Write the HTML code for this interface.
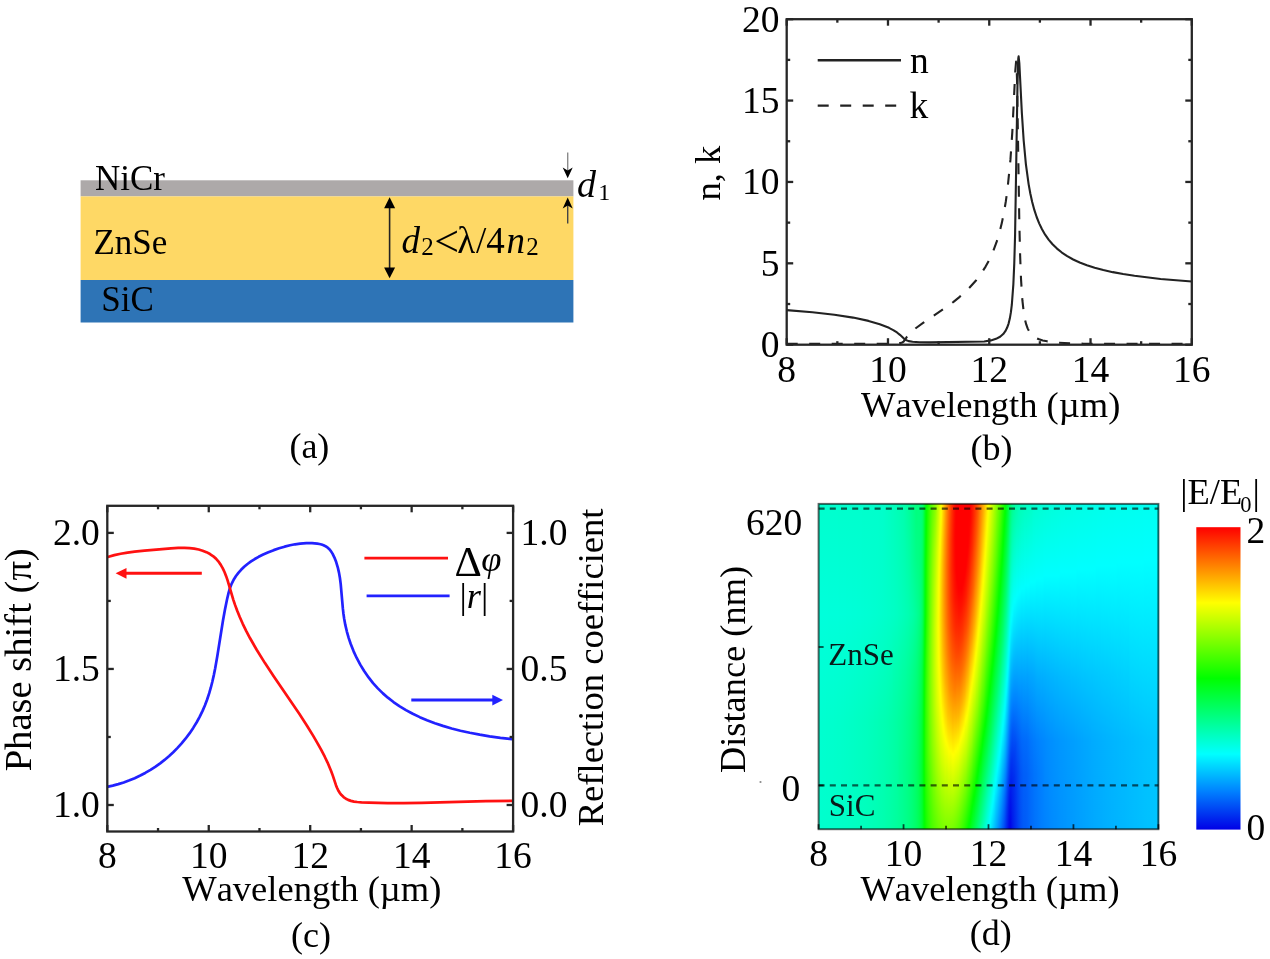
<!DOCTYPE html><html><head><meta charset="utf-8"><style>html,body{margin:0;padding:0;background:#fff;width:1270px;height:959px;overflow:hidden}svg{display:block;filter:blur(0.7px)}text{font-family:"Liberation Serif",serif;font-kerning:none}</style></head><body><svg width="1270" height="959" viewBox="0 0 1270 959"><rect x="80.6" y="180.3" width="492.8" height="16.1" fill="#ADA9A9"/>
<rect x="80.6" y="196.4" width="492.8" height="83.6" fill="#FED865"/>
<rect x="80.6" y="280" width="492.8" height="42.5" fill="#2E74B6"/>
<text x="95" y="189.5" font-size="35" text-anchor="start" fill="#000">NiCr</text>
<text x="93.4" y="253.8" font-size="35" text-anchor="start" fill="#000">ZnSe</text>
<text x="101.2" y="311.2" font-size="35" text-anchor="start" fill="#000">SiC</text>
<line x1="389.6" y1="206" x2="389.6" y2="270" stroke="#222" stroke-width="1.6"/>
<path d="M389.6,197.3 L384.1,208.3 L395.1,208.3 Z" fill="#000"/>
<path d="M389.6,278.2 L384.1,267.4 L395.1,267.4 Z" fill="#000"/>
<line x1="567.7" y1="152.5" x2="567.7" y2="172" stroke="#8a8a8a" stroke-width="1.4"/>
<path d="M567.7,178.3 L562.7,167.5 L567.7,170.5 L572.7,167.5 Z" fill="#000"/>
<line x1="567.7" y1="204" x2="567.7" y2="223.5" stroke="#444" stroke-width="1.4"/>
<path d="M567.7,197.6 L562.7,208.4 L567.7,205.4 L572.7,208.4 Z" fill="#000"/>
<text x="577" y="197" font-size="38" text-anchor="start" font-style="italic" fill="#000">d</text>
<text x="598.2" y="199.8" font-size="24" text-anchor="start" fill="#000">1</text>
<text y="252.8" font-size="37"><tspan x="401.5" font-style="italic">d</tspan><tspan x="421.3" y="254.6" font-size="25">2</tspan><tspan x="434.3" y="255.6" font-size="44">&lt;</tspan><tspan x="457.2" y="252.8">λ</tspan><tspan x="476.0">/</tspan><tspan x="486.3">4</tspan><tspan x="506.5" font-style="italic">n</tspan><tspan x="526.3" y="254.6" font-size="25">2</tspan></text>
<text x="309.4" y="458.4" font-size="36" text-anchor="middle" fill="#000">(a)</text>
<path d="M786.7,310.17 L812.42,312.27 L834.4,314.73 L853.04,317.59 L868.53,320.89 L879.77,324.17 L888.99,327.85 L893.24,330.08 L896.99,332.49 L899.93,334.81 L904.18,338.78 L905.8,339.95 L908.64,341.1 L912.58,341.78 L919.47,342.21 L929.6,342.33 L984.19,341.57 L990.87,340.39 L996.04,338.82 L1000.09,336.73 L1003.23,334.04 L1005.35,331.21 L1007.07,327.85 L1008.59,323.54 L1009.81,318.6 L1010.92,312.16 L1011.83,304.71 L1013.35,284.44 L1014.26,263.58 L1015.08,235.12 L1017.51,83.64 L1018.01,63.76 L1018.32,58.07 L1018.62,56.4 L1019.33,63.02 L1021.86,112.93 L1023.68,140.52 L1025.91,164.28 L1028.65,184.35 L1030.37,193.81 L1032.19,202.03 L1034.32,209.91 L1036.65,217.01 L1039.18,223.37 L1042.01,229.26 L1045.15,234.67 L1048.6,239.59 L1052.55,244.26 L1057,248.62 L1061.86,252.55 L1067.23,256.15 L1073.21,259.47 L1079.69,262.47 L1086.88,265.23 L1094.68,267.73 L1103.29,270.03 L1112.81,272.15 L1123.14,274.07 L1134.48,275.83 L1160.61,278.94 L1191.8,281.52" fill="none" stroke="#222" stroke-width="2.1" stroke-linejoin="round"/>
<path d="M786.7,343.7 L895.77,343.7 L899.12,343.36 L901.44,342.84 L902.66,342.29 L903.57,341.56 L906.71,337.07 L908.84,334.5 L911.88,331.5 L915.72,328.26 L923.42,322.64 L946.61,306.94 L953.2,302.07 L959.07,297.37 L968.29,288.94 L976.19,280.18 L981.15,273.58 L985.6,266.6 L989.66,259.07 L993.2,251.17 L996.44,242.46 L999.28,233.2 L1001.81,223.09 L1004.04,212.15 L1005.86,201.19 L1007.58,188.5 L1010.42,159.89 L1012.34,131.59 L1015.28,71.03 L1016.09,61.64 L1016.39,62.96 L1016.59,66.05 L1017.1,82.82 L1019.33,223.11 L1020.14,255.77 L1021.05,279.64 L1022.37,300.2 L1023.99,314.2 L1025,319.7 L1026.22,324.44 L1027.63,328.36 L1029.35,331.67 L1031.18,334.13 L1033.41,336.23 L1036.04,337.95 L1039.08,339.32 L1042.72,340.44 L1047.08,341.34 L1058.83,342.67 L1069.56,343.27 L1083.64,343.7 L1191.8,343.7" fill="none" stroke="#222" stroke-width="2.1" stroke-dasharray="11,11.5" stroke-linejoin="round"/>
<rect x="786.7" y="19.2" width="405.1" height="325.5" fill="none" stroke="#262626" stroke-width="2.3"/>
<line x1="786.7" y1="344.7" x2="793.2" y2="344.7" stroke="#262626" stroke-width="2.3"/>
<line x1="1191.8" y1="344.7" x2="1185.3" y2="344.7" stroke="#262626" stroke-width="2.3"/>
<line x1="786.7" y1="263.32" x2="793.2" y2="263.32" stroke="#262626" stroke-width="2.3"/>
<line x1="1191.8" y1="263.32" x2="1185.3" y2="263.32" stroke="#262626" stroke-width="2.3"/>
<line x1="786.7" y1="181.95" x2="793.2" y2="181.95" stroke="#262626" stroke-width="2.3"/>
<line x1="1191.8" y1="181.95" x2="1185.3" y2="181.95" stroke="#262626" stroke-width="2.3"/>
<line x1="786.7" y1="100.57" x2="793.2" y2="100.57" stroke="#262626" stroke-width="2.3"/>
<line x1="1191.8" y1="100.57" x2="1185.3" y2="100.57" stroke="#262626" stroke-width="2.3"/>
<line x1="786.7" y1="19.2" x2="793.2" y2="19.2" stroke="#262626" stroke-width="2.3"/>
<line x1="1191.8" y1="19.2" x2="1185.3" y2="19.2" stroke="#262626" stroke-width="2.3"/>
<line x1="786.7" y1="304.01" x2="790.2" y2="304.01" stroke="#262626" stroke-width="2.3"/>
<line x1="1191.8" y1="304.01" x2="1188.3" y2="304.01" stroke="#262626" stroke-width="2.3"/>
<line x1="786.7" y1="222.64" x2="790.2" y2="222.64" stroke="#262626" stroke-width="2.3"/>
<line x1="1191.8" y1="222.64" x2="1188.3" y2="222.64" stroke="#262626" stroke-width="2.3"/>
<line x1="786.7" y1="141.26" x2="790.2" y2="141.26" stroke="#262626" stroke-width="2.3"/>
<line x1="1191.8" y1="141.26" x2="1188.3" y2="141.26" stroke="#262626" stroke-width="2.3"/>
<line x1="786.7" y1="59.89" x2="790.2" y2="59.89" stroke="#262626" stroke-width="2.3"/>
<line x1="1191.8" y1="59.89" x2="1188.3" y2="59.89" stroke="#262626" stroke-width="2.3"/>
<line x1="786.7" y1="344.7" x2="786.7" y2="338.2" stroke="#262626" stroke-width="2.3"/>
<line x1="786.7" y1="19.2" x2="786.7" y2="25.7" stroke="#262626" stroke-width="2.3"/>
<line x1="887.98" y1="344.7" x2="887.98" y2="338.2" stroke="#262626" stroke-width="2.3"/>
<line x1="887.98" y1="19.2" x2="887.98" y2="25.7" stroke="#262626" stroke-width="2.3"/>
<line x1="989.25" y1="344.7" x2="989.25" y2="338.2" stroke="#262626" stroke-width="2.3"/>
<line x1="989.25" y1="19.2" x2="989.25" y2="25.7" stroke="#262626" stroke-width="2.3"/>
<line x1="1090.53" y1="344.7" x2="1090.53" y2="338.2" stroke="#262626" stroke-width="2.3"/>
<line x1="1090.53" y1="19.2" x2="1090.53" y2="25.7" stroke="#262626" stroke-width="2.3"/>
<line x1="1191.8" y1="344.7" x2="1191.8" y2="338.2" stroke="#262626" stroke-width="2.3"/>
<line x1="1191.8" y1="19.2" x2="1191.8" y2="25.7" stroke="#262626" stroke-width="2.3"/>
<line x1="837.34" y1="344.7" x2="837.34" y2="341.2" stroke="#262626" stroke-width="2.3"/>
<line x1="837.34" y1="19.2" x2="837.34" y2="22.7" stroke="#262626" stroke-width="2.3"/>
<line x1="938.61" y1="344.7" x2="938.61" y2="341.2" stroke="#262626" stroke-width="2.3"/>
<line x1="938.61" y1="19.2" x2="938.61" y2="22.7" stroke="#262626" stroke-width="2.3"/>
<line x1="1039.89" y1="344.7" x2="1039.89" y2="341.2" stroke="#262626" stroke-width="2.3"/>
<line x1="1039.89" y1="19.2" x2="1039.89" y2="22.7" stroke="#262626" stroke-width="2.3"/>
<line x1="1141.16" y1="344.7" x2="1141.16" y2="341.2" stroke="#262626" stroke-width="2.3"/>
<line x1="1141.16" y1="19.2" x2="1141.16" y2="22.7" stroke="#262626" stroke-width="2.3"/>
<text x="779.5" y="357.2" font-size="37.5" text-anchor="end" fill="#000">0</text>
<text x="779.5" y="275.82" font-size="37.5" text-anchor="end" fill="#000">5</text>
<text x="779.5" y="194.45" font-size="37.5" text-anchor="end" fill="#000">10</text>
<text x="779.5" y="113.07" font-size="37.5" text-anchor="end" fill="#000">15</text>
<text x="779.5" y="31.7" font-size="37.5" text-anchor="end" fill="#000">20</text>
<text x="786.7" y="381.5" font-size="37.5" text-anchor="middle" fill="#000">8</text>
<text x="887.98" y="381.5" font-size="37.5" text-anchor="middle" fill="#000">10</text>
<text x="989.25" y="381.5" font-size="37.5" text-anchor="middle" fill="#000">12</text>
<text x="1090.53" y="381.5" font-size="37.5" text-anchor="middle" fill="#000">14</text>
<text x="1191.8" y="381.5" font-size="37.5" text-anchor="middle" fill="#000">16</text>
<text x="990.7" y="416.5" font-size="36.5" text-anchor="middle" fill="#000">Wavelength (µm)</text>
<text x="991.5" y="460.4" font-size="36" text-anchor="middle" fill="#000">(b)</text>
<text x="0" y="0" font-size="36.5" text-anchor="middle" transform="translate(720.2,173.2) rotate(-90)">n, k</text>
<line x1="817.7" y1="60.2" x2="901" y2="60.2" stroke="#222" stroke-width="2.4"/>
<text x="910" y="72.5" font-size="37.5" text-anchor="start" fill="#000">n</text>
<line x1="817.7" y1="105.6" x2="900" y2="105.6" stroke="#222" stroke-width="2.4" stroke-dasharray="11,11.5"/>
<text x="909.5" y="118" font-size="37.5" text-anchor="start" fill="#000">k</text>
<path d="M107.15,786.84 L112.76,785.62 L118.27,784.15 L123.68,782.45 L129.51,780.33 L134.7,778.17 L140.27,775.54 L145.21,772.94 L150.5,769.85 L155.18,766.84 L160.16,763.31 L164.53,759.91 L169.18,755.97 L173.24,752.22 L177.53,747.9 L181.62,743.39 L185.5,738.71 L189.5,733.41 L193.23,727.92 L196.7,722.24 L199.63,716.89 L202.56,710.89 L204.98,705.26 L207.14,699.52 L209.24,693.13 L210.8,687.73 L212.33,681.73 L213.82,675.12 L215.15,668.47 L217.29,656.25 L222.95,620.74 L224.93,609.83 L227.07,599.31 L228.63,592.59 L230.08,587.68 L231.71,583.54 L233.96,579.19 L235.98,576.01 L238.58,572.6 L241.08,569.8 L244.17,566.8 L247.5,564.01 L251.04,561.42 L254.76,559.02 L258.64,556.8 L263.17,554.51 L268.38,552.21 L273.71,550.15 L279.13,548.31 L284.59,546.68 L290.1,545.29 L295.1,544.29 L300.14,543.55 L306.38,543.07 L312.12,543.07 L317.25,543.56 L319.44,543.97 L321.56,544.53 L323.57,545.25 L325,545.92 L326.77,546.97 L327.99,547.9 L329.12,548.95 L330.48,550.52 L332.52,553.63 L334.43,557.54 L336.19,562.11 L337.76,567.31 L338.99,572.62 L339.93,578.02 L340.71,584.05 L342.82,608.13 L343.45,613.75 L344.18,618.8 L345.31,624.93 L346.87,631.55 L348.74,638.09 L350.73,643.98 L353.63,651.33 L356.7,657.96 L360.39,664.88 L364.16,671.07 L368.6,677.44 L373.06,683.07 L377.83,688.38 L382.92,693.37 L387.87,697.67 L393.49,702.02 L399.37,706.06 L405.95,710.08 L412.76,713.77 L419.79,717.15 L427,720.23 L434.89,723.22 L442.93,725.9 L451.63,728.45 L460.41,730.7 L469.79,732.79 L479.72,734.69 L489.59,736.3 L500.42,737.81 L512.08,739.15" fill="none" stroke="#2222ff" stroke-width="2.7" stroke-linejoin="round"/>
<path d="M107.75,556.95 L114.29,555.16 L120.71,553.74 L127.48,552.55 L134.65,551.58 L144.51,550.58 L171.01,548.38 L178.21,547.97 L184.42,547.9 L189.59,548.15 L194.21,548.67 L198.71,549.55 L202.64,550.68 L206.42,552.16 L210,554.02 L213.3,556.27 L215.95,558.63 L218.31,561.3 L220.63,564.61 L222.66,568.16 L224.6,572.29 L226.14,576.15 L227.51,580.11 L233.26,599.56 L235.04,604.9 L237.13,610.59 L239.74,617.04 L242.75,623.8 L246.17,630.85 L249.81,637.79 L256.67,649.79 L264.97,663.1 L273.67,676.22 L299.27,713.84 L306.84,725.51 L313.39,736.15 L317.57,743.33 L321.36,750.19 L324.76,756.73 L327.57,762.57 L331.2,771.18 L332.81,775.66 L335.97,785.19 L336.99,787.77 L338.14,790.2 L339.71,792.79 L341.53,795.09 L343.6,797.08 L345.93,798.74 L348.14,799.88 L350.95,800.88 L353.99,801.56 L357.18,802 L361.44,802.33 L369.11,802.65 L387.59,803.09 L403.95,803.14 L421.53,802.94 L485.91,801.22 L513.03,800.81" fill="none" stroke="#ff1111" stroke-width="2.7" stroke-linejoin="round"/>
<rect x="107.3" y="505.8" width="405.8" height="325.7" fill="none" stroke="#262626" stroke-width="2.3"/>
<line x1="107.3" y1="805" x2="113.8" y2="805" stroke="#262626" stroke-width="2.3"/>
<line x1="107.3" y1="668.95" x2="113.8" y2="668.95" stroke="#262626" stroke-width="2.3"/>
<line x1="107.3" y1="532.9" x2="113.8" y2="532.9" stroke="#262626" stroke-width="2.3"/>
<line x1="107.3" y1="736.98" x2="110.8" y2="736.98" stroke="#262626" stroke-width="2.3"/>
<line x1="107.3" y1="600.92" x2="110.8" y2="600.92" stroke="#262626" stroke-width="2.3"/>
<line x1="513.1" y1="805" x2="506.6" y2="805" stroke="#262626" stroke-width="2.3"/>
<line x1="513.1" y1="668.95" x2="506.6" y2="668.95" stroke="#262626" stroke-width="2.3"/>
<line x1="513.1" y1="532.9" x2="506.6" y2="532.9" stroke="#262626" stroke-width="2.3"/>
<line x1="513.1" y1="736.98" x2="509.6" y2="736.98" stroke="#262626" stroke-width="2.3"/>
<line x1="513.1" y1="600.92" x2="509.6" y2="600.92" stroke="#262626" stroke-width="2.3"/>
<line x1="107.3" y1="831.5" x2="107.3" y2="825" stroke="#262626" stroke-width="2.3"/>
<line x1="107.3" y1="505.8" x2="107.3" y2="512.3" stroke="#262626" stroke-width="2.3"/>
<line x1="208.75" y1="831.5" x2="208.75" y2="825" stroke="#262626" stroke-width="2.3"/>
<line x1="208.75" y1="505.8" x2="208.75" y2="512.3" stroke="#262626" stroke-width="2.3"/>
<line x1="310.2" y1="831.5" x2="310.2" y2="825" stroke="#262626" stroke-width="2.3"/>
<line x1="310.2" y1="505.8" x2="310.2" y2="512.3" stroke="#262626" stroke-width="2.3"/>
<line x1="411.65" y1="831.5" x2="411.65" y2="825" stroke="#262626" stroke-width="2.3"/>
<line x1="411.65" y1="505.8" x2="411.65" y2="512.3" stroke="#262626" stroke-width="2.3"/>
<line x1="513.1" y1="831.5" x2="513.1" y2="825" stroke="#262626" stroke-width="2.3"/>
<line x1="513.1" y1="505.8" x2="513.1" y2="512.3" stroke="#262626" stroke-width="2.3"/>
<line x1="158.03" y1="831.5" x2="158.03" y2="828" stroke="#262626" stroke-width="2.3"/>
<line x1="158.03" y1="505.8" x2="158.03" y2="509.3" stroke="#262626" stroke-width="2.3"/>
<line x1="259.48" y1="831.5" x2="259.48" y2="828" stroke="#262626" stroke-width="2.3"/>
<line x1="259.48" y1="505.8" x2="259.48" y2="509.3" stroke="#262626" stroke-width="2.3"/>
<line x1="360.93" y1="831.5" x2="360.93" y2="828" stroke="#262626" stroke-width="2.3"/>
<line x1="360.93" y1="505.8" x2="360.93" y2="509.3" stroke="#262626" stroke-width="2.3"/>
<line x1="462.38" y1="831.5" x2="462.38" y2="828" stroke="#262626" stroke-width="2.3"/>
<line x1="462.38" y1="505.8" x2="462.38" y2="509.3" stroke="#262626" stroke-width="2.3"/>
<text x="99.8" y="817.3" font-size="37.5" text-anchor="end" fill="#000">1.0</text>
<text x="99.8" y="681.25" font-size="37.5" text-anchor="end" fill="#000">1.5</text>
<text x="99.8" y="545.2" font-size="37.5" text-anchor="end" fill="#000">2.0</text>
<text x="520.5" y="817.3" font-size="37.5" text-anchor="start" fill="#000">0.0</text>
<text x="520.5" y="681.25" font-size="37.5" text-anchor="start" fill="#000">0.5</text>
<text x="520.5" y="545.2" font-size="37.5" text-anchor="start" fill="#000">1.0</text>
<text x="107.3" y="867.5" font-size="37.5" text-anchor="middle" fill="#000">8</text>
<text x="208.75" y="867.5" font-size="37.5" text-anchor="middle" fill="#000">10</text>
<text x="310.2" y="867.5" font-size="37.5" text-anchor="middle" fill="#000">12</text>
<text x="411.65" y="867.5" font-size="37.5" text-anchor="middle" fill="#000">14</text>
<text x="513.1" y="867.5" font-size="37.5" text-anchor="middle" fill="#000">16</text>
<text x="311.8" y="901" font-size="36.5" text-anchor="middle" fill="#000">Wavelength (µm)</text>
<text x="311" y="946.5" font-size="36" text-anchor="middle" fill="#000">(c)</text>
<text x="0" y="0" font-size="38.6" text-anchor="middle" transform="translate(30.5,659.8) rotate(-90)">Phase shift (π)</text>
<text x="0" y="0" text-anchor="middle" transform="translate(603.3,667.4) rotate(-90)" font-size="36.6">Reflection coefficient</text>
<line x1="364.4" y1="558.2" x2="448" y2="558.2" stroke="#ff1111" stroke-width="2.7"/>
<line x1="366.6" y1="595.8" x2="449.6" y2="595.8" stroke="#2222ff" stroke-width="2.7"/>
<text y="576.3" font-size="42.5"><tspan x="454.6">Δ</tspan><tspan x="481.3" y="570.6" font-size="36.5" font-style="italic">φ</tspan></text>
<text y="608" font-size="36.5"><tspan x="459.5">|</tspan><tspan font-style="italic">r</tspan><tspan>|</tspan></text>
<line x1="124" y1="573.3" x2="201.8" y2="573.3" stroke="#ff1111" stroke-width="3"/>
<path d="M115.6,573.3 L126.5,567.9 L126.5,578.7 Z" fill="#ff1111"/>
<line x1="411.3" y1="700.1" x2="494" y2="700.1" stroke="#2222ff" stroke-width="3"/>
<path d="M503,700.1 L492.3,694.8 L492.3,705.4 Z" fill="#2222ff"/>
<defs><linearGradient id="g0" x2="0" y2="1"><stop offset="0" stop-color="#00ffce"/><stop offset="0.34" stop-color="#00ffdb"/><stop offset="0.68" stop-color="#00ffd0"/><stop offset="1" stop-color="#00ffce"/></linearGradient><linearGradient id="g1" x2="0" y2="1"><stop offset="0" stop-color="#00ffce"/><stop offset="0.34" stop-color="#00ffdb"/><stop offset="0.68" stop-color="#00ffd0"/><stop offset="1" stop-color="#00ffce"/></linearGradient><linearGradient id="g2" x2="0" y2="1"><stop offset="0" stop-color="#00ffce"/><stop offset="0.34" stop-color="#00ffdb"/><stop offset="0.68" stop-color="#00ffd0"/><stop offset="1" stop-color="#00ffce"/></linearGradient><linearGradient id="g3" x2="0" y2="1"><stop offset="0" stop-color="#00ffce"/><stop offset="0.34" stop-color="#00ffdb"/><stop offset="0.68" stop-color="#00ffcf"/><stop offset="1" stop-color="#00ffcd"/></linearGradient><linearGradient id="g4" x2="0" y2="1"><stop offset="0" stop-color="#00ffce"/><stop offset="0.34" stop-color="#00ffdb"/><stop offset="0.68" stop-color="#00ffcf"/><stop offset="1" stop-color="#00ffcd"/></linearGradient><linearGradient id="g5" x2="0" y2="1"><stop offset="0" stop-color="#00ffce"/><stop offset="0.34" stop-color="#00ffdb"/><stop offset="0.68" stop-color="#00ffcf"/><stop offset="1" stop-color="#00ffcd"/></linearGradient><linearGradient id="g6" x2="0" y2="1"><stop offset="0" stop-color="#00ffce"/><stop offset="0.34" stop-color="#00ffdb"/><stop offset="0.68" stop-color="#00ffcf"/><stop offset="1" stop-color="#00ffcd"/></linearGradient><linearGradient id="g7" x2="0" y2="1"><stop offset="0" stop-color="#00ffce"/><stop offset="0.34" stop-color="#00ffdb"/><stop offset="0.68" stop-color="#00ffce"/><stop offset="1" stop-color="#00ffcc"/></linearGradient><linearGradient id="g8" x2="0" y2="1"><stop offset="0" stop-color="#00ffce"/><stop offset="0.34" stop-color="#00ffdb"/><stop offset="0.68" stop-color="#00ffce"/><stop offset="1" stop-color="#00ffcc"/></linearGradient><linearGradient id="g9" x2="0" y2="1"><stop offset="0" stop-color="#00ffce"/><stop offset="0.34" stop-color="#00ffda"/><stop offset="0.68" stop-color="#00ffce"/><stop offset="1" stop-color="#00ffcc"/></linearGradient><linearGradient id="g10" x2="0" y2="1"><stop offset="0" stop-color="#00ffce"/><stop offset="0.34" stop-color="#00ffda"/><stop offset="0.68" stop-color="#00ffce"/><stop offset="1" stop-color="#00ffcc"/></linearGradient><linearGradient id="g11" x2="0" y2="1"><stop offset="0" stop-color="#00ffce"/><stop offset="0.34" stop-color="#00ffda"/><stop offset="0.68" stop-color="#00ffcd"/><stop offset="1" stop-color="#00ffcb"/></linearGradient><linearGradient id="g12" x2="0" y2="1"><stop offset="0" stop-color="#00ffce"/><stop offset="0.34" stop-color="#00ffda"/><stop offset="0.68" stop-color="#00ffcd"/><stop offset="1" stop-color="#00ffcb"/></linearGradient><linearGradient id="g13" x2="0" y2="1"><stop offset="0" stop-color="#00ffce"/><stop offset="0.34" stop-color="#00ffda"/><stop offset="0.68" stop-color="#00ffcd"/><stop offset="1" stop-color="#00ffcb"/></linearGradient><linearGradient id="g14" x2="0" y2="1"><stop offset="0" stop-color="#00ffce"/><stop offset="0.34" stop-color="#00ffda"/><stop offset="0.68" stop-color="#00ffcd"/><stop offset="1" stop-color="#00ffca"/></linearGradient><linearGradient id="g15" x2="0" y2="1"><stop offset="0" stop-color="#00ffce"/><stop offset="0.34" stop-color="#00ffda"/><stop offset="0.68" stop-color="#00ffcc"/><stop offset="1" stop-color="#00ffca"/></linearGradient><linearGradient id="g16" x2="0" y2="1"><stop offset="0" stop-color="#00ffce"/><stop offset="0.34" stop-color="#00ffda"/><stop offset="0.68" stop-color="#00ffcc"/><stop offset="1" stop-color="#00ffca"/></linearGradient><linearGradient id="g17" x2="0" y2="1"><stop offset="0" stop-color="#00ffce"/><stop offset="0.34" stop-color="#00ffda"/><stop offset="0.68" stop-color="#00ffcc"/><stop offset="1" stop-color="#00ffca"/></linearGradient><linearGradient id="g18" x2="0" y2="1"><stop offset="0" stop-color="#00ffce"/><stop offset="0.34" stop-color="#00ffda"/><stop offset="0.68" stop-color="#00ffcb"/><stop offset="1" stop-color="#00ffc9"/></linearGradient><linearGradient id="g19" x2="0" y2="1"><stop offset="0" stop-color="#00ffcd"/><stop offset="0.34" stop-color="#00ffda"/><stop offset="0.68" stop-color="#00ffcb"/><stop offset="1" stop-color="#00ffc9"/></linearGradient><linearGradient id="g20" x2="0" y2="1"><stop offset="0" stop-color="#00ffcd"/><stop offset="0.34" stop-color="#00ffd9"/><stop offset="0.68" stop-color="#00ffcb"/><stop offset="1" stop-color="#00ffc9"/></linearGradient><linearGradient id="g21" x2="0" y2="1"><stop offset="0" stop-color="#00ffcd"/><stop offset="0.34" stop-color="#00ffd9"/><stop offset="0.68" stop-color="#00ffcb"/><stop offset="1" stop-color="#00ffc8"/></linearGradient><linearGradient id="g22" x2="0" y2="1"><stop offset="0" stop-color="#00ffcd"/><stop offset="0.34" stop-color="#00ffd9"/><stop offset="0.68" stop-color="#00ffca"/><stop offset="1" stop-color="#00ffc8"/></linearGradient><linearGradient id="g23" x2="0" y2="1"><stop offset="0" stop-color="#00ffcd"/><stop offset="0.34" stop-color="#00ffd9"/><stop offset="0.68" stop-color="#00ffca"/><stop offset="1" stop-color="#00ffc7"/></linearGradient><linearGradient id="g24" x2="0" y2="1"><stop offset="0" stop-color="#00ffcd"/><stop offset="0.34" stop-color="#00ffd9"/><stop offset="0.68" stop-color="#00ffca"/><stop offset="1" stop-color="#00ffc7"/></linearGradient><linearGradient id="g25" x2="0" y2="1"><stop offset="0" stop-color="#00ffcd"/><stop offset="0.34" stop-color="#00ffd9"/><stop offset="0.68" stop-color="#00ffc9"/><stop offset="1" stop-color="#00ffc7"/></linearGradient><linearGradient id="g26" x2="0" y2="1"><stop offset="0" stop-color="#00ffcd"/><stop offset="0.34" stop-color="#00ffd9"/><stop offset="0.68" stop-color="#00ffc9"/><stop offset="1" stop-color="#00ffc6"/></linearGradient><linearGradient id="g27" x2="0" y2="1"><stop offset="0" stop-color="#00ffcd"/><stop offset="0.34" stop-color="#00ffd8"/><stop offset="0.68" stop-color="#00ffc8"/><stop offset="1" stop-color="#00ffc6"/></linearGradient><linearGradient id="g28" x2="0" y2="1"><stop offset="0" stop-color="#00ffcd"/><stop offset="0.34" stop-color="#00ffd8"/><stop offset="0.68" stop-color="#00ffc8"/><stop offset="1" stop-color="#00ffc6"/></linearGradient><linearGradient id="g29" x2="0" y2="1"><stop offset="0" stop-color="#00ffcd"/><stop offset="0.34" stop-color="#00ffd8"/><stop offset="0.68" stop-color="#00ffc8"/><stop offset="1" stop-color="#00ffc5"/></linearGradient><linearGradient id="g30" x2="0" y2="1"><stop offset="0" stop-color="#00ffcd"/><stop offset="0.34" stop-color="#00ffd8"/><stop offset="0.68" stop-color="#00ffc7"/><stop offset="1" stop-color="#00ffc5"/></linearGradient><linearGradient id="g31" x2="0" y2="1"><stop offset="0" stop-color="#00ffcd"/><stop offset="0.34" stop-color="#00ffd8"/><stop offset="0.68" stop-color="#00ffc7"/><stop offset="1" stop-color="#00ffc4"/></linearGradient><linearGradient id="g32" x2="0" y2="1"><stop offset="0" stop-color="#00ffcd"/><stop offset="0.34" stop-color="#00ffd8"/><stop offset="0.68" stop-color="#00ffc6"/><stop offset="1" stop-color="#00ffc4"/></linearGradient><linearGradient id="g33" x2="0" y2="1"><stop offset="0" stop-color="#00ffcd"/><stop offset="0.34" stop-color="#00ffd7"/><stop offset="0.68" stop-color="#00ffc6"/><stop offset="1" stop-color="#00ffc3"/></linearGradient><linearGradient id="g34" x2="0" y2="1"><stop offset="0" stop-color="#00ffcd"/><stop offset="0.34" stop-color="#00ffd7"/><stop offset="0.68" stop-color="#00ffc6"/><stop offset="1" stop-color="#00ffc3"/></linearGradient><linearGradient id="g35" x2="0" y2="1"><stop offset="0" stop-color="#00ffcd"/><stop offset="0.34" stop-color="#00ffd7"/><stop offset="0.67" stop-color="#00ffc5"/><stop offset="1" stop-color="#00ffc2"/></linearGradient><linearGradient id="g36" x2="0" y2="1"><stop offset="0" stop-color="#00ffcd"/><stop offset="0.34" stop-color="#00ffd7"/><stop offset="0.67" stop-color="#00ffc5"/><stop offset="1" stop-color="#00ffc2"/></linearGradient><linearGradient id="g37" x2="0" y2="1"><stop offset="0" stop-color="#00ffcd"/><stop offset="0.34" stop-color="#00ffd7"/><stop offset="0.67" stop-color="#00ffc4"/><stop offset="1" stop-color="#00ffc1"/></linearGradient><linearGradient id="g38" x2="0" y2="1"><stop offset="0" stop-color="#00ffcd"/><stop offset="0.34" stop-color="#00ffd6"/><stop offset="0.67" stop-color="#00ffc4"/><stop offset="1" stop-color="#00ffc1"/></linearGradient><linearGradient id="g39" x2="0" y2="1"><stop offset="0" stop-color="#00ffcd"/><stop offset="0.34" stop-color="#00ffd6"/><stop offset="0.67" stop-color="#00ffc3"/><stop offset="1" stop-color="#00ffc0"/></linearGradient><linearGradient id="g40" x2="0" y2="1"><stop offset="0" stop-color="#00ffcd"/><stop offset="0.34" stop-color="#00ffd6"/><stop offset="0.67" stop-color="#00ffc3"/><stop offset="1" stop-color="#00ffc0"/></linearGradient><linearGradient id="g41" x2="0" y2="1"><stop offset="0" stop-color="#00ffcd"/><stop offset="0.34" stop-color="#00ffd6"/><stop offset="0.67" stop-color="#00ffc2"/><stop offset="1" stop-color="#00ffbf"/></linearGradient><linearGradient id="g42" x2="0" y2="1"><stop offset="0" stop-color="#00ffcd"/><stop offset="0.34" stop-color="#00ffd5"/><stop offset="0.67" stop-color="#00ffc2"/><stop offset="1" stop-color="#00ffbf"/></linearGradient><linearGradient id="g43" x2="0" y2="1"><stop offset="0" stop-color="#00ffcc"/><stop offset="0.34" stop-color="#00ffd5"/><stop offset="0.67" stop-color="#00ffc1"/><stop offset="1" stop-color="#00ffbe"/></linearGradient><linearGradient id="g44" x2="0" y2="1"><stop offset="0" stop-color="#00ffcc"/><stop offset="0.34" stop-color="#00ffd5"/><stop offset="0.67" stop-color="#00ffc1"/><stop offset="1" stop-color="#00ffbe"/></linearGradient><linearGradient id="g45" x2="0" y2="1"><stop offset="0" stop-color="#00ffcc"/><stop offset="0.34" stop-color="#00ffd4"/><stop offset="0.67" stop-color="#00ffc0"/><stop offset="1" stop-color="#00ffbd"/></linearGradient><linearGradient id="g46" x2="0" y2="1"><stop offset="0" stop-color="#00ffcc"/><stop offset="0.34" stop-color="#00ffd4"/><stop offset="0.67" stop-color="#00ffc0"/><stop offset="1" stop-color="#00ffbd"/></linearGradient><linearGradient id="g47" x2="0" y2="1"><stop offset="0" stop-color="#00ffcc"/><stop offset="0.34" stop-color="#00ffd4"/><stop offset="0.67" stop-color="#00ffbf"/><stop offset="1" stop-color="#00ffbc"/></linearGradient><linearGradient id="g48" x2="0" y2="1"><stop offset="0" stop-color="#00ffcc"/><stop offset="0.34" stop-color="#00ffd4"/><stop offset="0.67" stop-color="#00ffbf"/><stop offset="1" stop-color="#00ffbb"/></linearGradient><linearGradient id="g49" x2="0" y2="1"><stop offset="0" stop-color="#00ffcc"/><stop offset="0.34" stop-color="#00ffd3"/><stop offset="0.67" stop-color="#00ffbe"/><stop offset="1" stop-color="#00ffbb"/></linearGradient><linearGradient id="g50" x2="0" y2="1"><stop offset="0" stop-color="#00ffcc"/><stop offset="0.34" stop-color="#00ffd3"/><stop offset="0.67" stop-color="#00ffbd"/><stop offset="1" stop-color="#00ffba"/></linearGradient><linearGradient id="g51" x2="0" y2="1"><stop offset="0" stop-color="#00ffcc"/><stop offset="0.34" stop-color="#00ffd3"/><stop offset="0.67" stop-color="#00ffbd"/><stop offset="1" stop-color="#00ffb9"/></linearGradient><linearGradient id="g52" x2="0" y2="1"><stop offset="0" stop-color="#00ffcc"/><stop offset="0.34" stop-color="#00ffd2"/><stop offset="0.67" stop-color="#00ffbc"/><stop offset="1" stop-color="#00ffb9"/></linearGradient><linearGradient id="g53" x2="0" y2="1"><stop offset="0" stop-color="#00ffcc"/><stop offset="0.34" stop-color="#00ffd2"/><stop offset="0.67" stop-color="#00ffbc"/><stop offset="1" stop-color="#00ffb8"/></linearGradient><linearGradient id="g54" x2="0" y2="1"><stop offset="0" stop-color="#00ffcc"/><stop offset="0.34" stop-color="#00ffd1"/><stop offset="0.67" stop-color="#00ffbb"/><stop offset="1" stop-color="#00ffb7"/></linearGradient><linearGradient id="g55" x2="0" y2="1"><stop offset="0" stop-color="#00ffcc"/><stop offset="0.34" stop-color="#00ffd1"/><stop offset="0.67" stop-color="#00ffba"/><stop offset="1" stop-color="#00ffb6"/></linearGradient><linearGradient id="g56" x2="0" y2="1"><stop offset="0" stop-color="#00ffcc"/><stop offset="0.34" stop-color="#00ffd1"/><stop offset="0.67" stop-color="#00ffb9"/><stop offset="1" stop-color="#00ffb6"/></linearGradient><linearGradient id="g57" x2="0" y2="1"><stop offset="0" stop-color="#00ffcc"/><stop offset="0.34" stop-color="#00ffd0"/><stop offset="0.67" stop-color="#00ffb9"/><stop offset="1" stop-color="#00ffb5"/></linearGradient><linearGradient id="g58" x2="0" y2="1"><stop offset="0" stop-color="#00ffcc"/><stop offset="0.34" stop-color="#00ffd0"/><stop offset="0.67" stop-color="#00ffb8"/><stop offset="1" stop-color="#00ffb4"/></linearGradient><linearGradient id="g59" x2="0" y2="1"><stop offset="0" stop-color="#00ffcc"/><stop offset="0.34" stop-color="#00ffcf"/><stop offset="0.67" stop-color="#00ffb7"/><stop offset="1" stop-color="#00ffb3"/></linearGradient><linearGradient id="g60" x2="0" y2="1"><stop offset="0" stop-color="#00ffcb"/><stop offset="0.34" stop-color="#00ffcf"/><stop offset="0.67" stop-color="#00ffb6"/><stop offset="1" stop-color="#00ffb2"/></linearGradient><linearGradient id="g61" x2="0" y2="1"><stop offset="0" stop-color="#00ffcb"/><stop offset="0.34" stop-color="#00ffce"/><stop offset="0.67" stop-color="#00ffb5"/><stop offset="1" stop-color="#00ffb1"/></linearGradient><linearGradient id="g62" x2="0" y2="1"><stop offset="0" stop-color="#00ffcb"/><stop offset="0.34" stop-color="#00ffce"/><stop offset="0.67" stop-color="#00ffb4"/><stop offset="1" stop-color="#00ffb1"/></linearGradient><linearGradient id="g63" x2="0" y2="1"><stop offset="0" stop-color="#00ffcb"/><stop offset="0.34" stop-color="#00ffcd"/><stop offset="0.67" stop-color="#00ffb4"/><stop offset="1" stop-color="#00ffb0"/></linearGradient><linearGradient id="g64" x2="0" y2="1"><stop offset="0" stop-color="#00ffca"/><stop offset="0.34" stop-color="#00ffcd"/><stop offset="0.67" stop-color="#00ffb3"/><stop offset="1" stop-color="#00ffaf"/></linearGradient><linearGradient id="g65" x2="0" y2="1"><stop offset="0" stop-color="#00ffc9"/><stop offset="0.34" stop-color="#00ffcc"/><stop offset="0.67" stop-color="#00ffb2"/><stop offset="1" stop-color="#00ffae"/></linearGradient><linearGradient id="g66" x2="0" y2="1"><stop offset="0" stop-color="#00ffc8"/><stop offset="0.34" stop-color="#00ffcb"/><stop offset="0.67" stop-color="#00ffb1"/><stop offset="1" stop-color="#00ffad"/></linearGradient><linearGradient id="g67" x2="0" y2="1"><stop offset="0" stop-color="#00ffc6"/><stop offset="0.34" stop-color="#00ffcb"/><stop offset="0.67" stop-color="#00ffb0"/><stop offset="1" stop-color="#00ffab"/></linearGradient><linearGradient id="g68" x2="0" y2="1"><stop offset="0" stop-color="#00ffc5"/><stop offset="0.34" stop-color="#00ffca"/><stop offset="0.67" stop-color="#00ffaf"/><stop offset="1" stop-color="#00ffaa"/></linearGradient><linearGradient id="g69" x2="0" y2="1"><stop offset="0" stop-color="#00ffc4"/><stop offset="0.34" stop-color="#00ffc9"/><stop offset="0.67" stop-color="#00ffae"/><stop offset="1" stop-color="#00ffa9"/></linearGradient><linearGradient id="g70" x2="0" y2="1"><stop offset="0" stop-color="#00ffc2"/><stop offset="0.34" stop-color="#00ffc9"/><stop offset="0.67" stop-color="#00ffad"/><stop offset="1" stop-color="#00ffa8"/></linearGradient><linearGradient id="g71" x2="0" y2="1"><stop offset="0" stop-color="#00ffc1"/><stop offset="0.34" stop-color="#00ffc8"/><stop offset="0.67" stop-color="#00ffab"/><stop offset="1" stop-color="#00ffa7"/></linearGradient><linearGradient id="g72" x2="0" y2="1"><stop offset="0" stop-color="#00ffc0"/><stop offset="0.34" stop-color="#00ffc7"/><stop offset="0.67" stop-color="#00ffaa"/><stop offset="1" stop-color="#00ffa6"/></linearGradient><linearGradient id="g73" x2="0" y2="1"><stop offset="0" stop-color="#00ffbe"/><stop offset="0.34" stop-color="#00ffc6"/><stop offset="0.67" stop-color="#00ffa9"/><stop offset="1" stop-color="#00ffa4"/></linearGradient><linearGradient id="g74" x2="0" y2="1"><stop offset="0" stop-color="#00ffbd"/><stop offset="0.34" stop-color="#00ffc6"/><stop offset="0.51" stop-color="#00ffb3"/><stop offset="0.67" stop-color="#00ffa8"/><stop offset="1" stop-color="#00ffa3"/></linearGradient><linearGradient id="g75" x2="0" y2="1"><stop offset="0" stop-color="#00ffbc"/><stop offset="0.34" stop-color="#00ffc5"/><stop offset="0.51" stop-color="#00ffb2"/><stop offset="0.67" stop-color="#00ffa6"/><stop offset="1" stop-color="#00ffa1"/></linearGradient><linearGradient id="g76" x2="0" y2="1"><stop offset="0" stop-color="#00ffba"/><stop offset="0.34" stop-color="#00ffc4"/><stop offset="0.51" stop-color="#00ffb1"/><stop offset="0.67" stop-color="#00ffa5"/><stop offset="1" stop-color="#00ffa0"/></linearGradient><linearGradient id="g77" x2="0" y2="1"><stop offset="0" stop-color="#00ffb9"/><stop offset="0.34" stop-color="#00ffc3"/><stop offset="0.51" stop-color="#00ffaf"/><stop offset="0.67" stop-color="#00ffa3"/><stop offset="1" stop-color="#00ff9e"/></linearGradient><linearGradient id="g78" x2="0" y2="1"><stop offset="0" stop-color="#00ffb7"/><stop offset="0.34" stop-color="#00ffc2"/><stop offset="0.51" stop-color="#00ffae"/><stop offset="0.67" stop-color="#00ffa2"/><stop offset="1" stop-color="#00ff9d"/></linearGradient><linearGradient id="g79" x2="0" y2="1"><stop offset="0" stop-color="#00ffb6"/><stop offset="0.34" stop-color="#00ffc1"/><stop offset="0.51" stop-color="#00ffad"/><stop offset="0.67" stop-color="#00ffa0"/><stop offset="1" stop-color="#00ff9b"/></linearGradient><linearGradient id="g80" x2="0" y2="1"><stop offset="0" stop-color="#00ffb5"/><stop offset="0.34" stop-color="#00ffbf"/><stop offset="0.51" stop-color="#00ffab"/><stop offset="0.67" stop-color="#00ff9e"/><stop offset="0.81" stop-color="#00ff99"/><stop offset="1" stop-color="#00ff99"/></linearGradient><linearGradient id="g81" x2="0" y2="1"><stop offset="0" stop-color="#00ffb3"/><stop offset="0.34" stop-color="#00ffbe"/><stop offset="0.51" stop-color="#00ffa9"/><stop offset="0.67" stop-color="#00ff9d"/><stop offset="0.81" stop-color="#00ff97"/><stop offset="1" stop-color="#00ff98"/></linearGradient><linearGradient id="g82" x2="0" y2="1"><stop offset="0" stop-color="#00ffb2"/><stop offset="0.34" stop-color="#00ffbd"/><stop offset="0.51" stop-color="#00ffa8"/><stop offset="0.67" stop-color="#00ff9b"/><stop offset="0.81" stop-color="#00ff96"/><stop offset="1" stop-color="#00ff96"/></linearGradient><linearGradient id="g83" x2="0" y2="1"><stop offset="0" stop-color="#00ffb0"/><stop offset="0.34" stop-color="#00ffbc"/><stop offset="0.51" stop-color="#00ffa6"/><stop offset="0.67" stop-color="#00ff99"/><stop offset="0.81" stop-color="#00ff94"/><stop offset="1" stop-color="#00ff94"/></linearGradient><linearGradient id="g84" x2="0" y2="1"><stop offset="0" stop-color="#00ffaf"/><stop offset="0.34" stop-color="#00ffba"/><stop offset="0.51" stop-color="#00ffa4"/><stop offset="0.67" stop-color="#00ff97"/><stop offset="0.81" stop-color="#00ff91"/><stop offset="1" stop-color="#00ff92"/></linearGradient><linearGradient id="g85" x2="0" y2="1"><stop offset="0" stop-color="#00ffac"/><stop offset="0.34" stop-color="#00ffb9"/><stop offset="0.51" stop-color="#00ffa3"/><stop offset="0.66" stop-color="#00ff95"/><stop offset="0.81" stop-color="#00ff8f"/><stop offset="1" stop-color="#00ff8f"/></linearGradient><linearGradient id="g86" x2="0" y2="1"><stop offset="0" stop-color="#00ffa9"/><stop offset="0.34" stop-color="#00ffb7"/><stop offset="0.51" stop-color="#00ffa1"/><stop offset="0.66" stop-color="#00ff93"/><stop offset="0.81" stop-color="#00ff8d"/><stop offset="1" stop-color="#00ff8d"/></linearGradient><linearGradient id="g87" x2="0" y2="1"><stop offset="0" stop-color="#00ffa5"/><stop offset="0.34" stop-color="#00ffb5"/><stop offset="0.51" stop-color="#00ff9f"/><stop offset="0.66" stop-color="#00ff90"/><stop offset="0.81" stop-color="#00ff8a"/><stop offset="1" stop-color="#00ff8b"/></linearGradient><linearGradient id="g88" x2="0" y2="1"><stop offset="0" stop-color="#00ffa2"/><stop offset="0.34" stop-color="#00ffb4"/><stop offset="0.51" stop-color="#00ff9c"/><stop offset="0.66" stop-color="#00ff8e"/><stop offset="0.81" stop-color="#00ff88"/><stop offset="1" stop-color="#00ff88"/></linearGradient><linearGradient id="g89" x2="0" y2="1"><stop offset="0" stop-color="#00ff9e"/><stop offset="0.34" stop-color="#00ffb2"/><stop offset="0.51" stop-color="#00ff9a"/><stop offset="0.66" stop-color="#00ff8b"/><stop offset="0.81" stop-color="#00ff85"/><stop offset="1" stop-color="#00ff85"/></linearGradient><linearGradient id="g90" x2="0" y2="1"><stop offset="0" stop-color="#00ff9b"/><stop offset="0.34" stop-color="#00ffaf"/><stop offset="0.51" stop-color="#00ff97"/><stop offset="0.66" stop-color="#00ff88"/><stop offset="0.81" stop-color="#00ff82"/><stop offset="1" stop-color="#00ff82"/></linearGradient><linearGradient id="g91" x2="0" y2="1"><stop offset="0" stop-color="#00ff97"/><stop offset="0.34" stop-color="#00ffad"/><stop offset="0.51" stop-color="#00ff95"/><stop offset="0.66" stop-color="#00ff85"/><stop offset="0.81" stop-color="#00ff7f"/><stop offset="1" stop-color="#00ff7f"/></linearGradient><linearGradient id="g92" x2="0" y2="1"><stop offset="0" stop-color="#00ff93"/><stop offset="0.18" stop-color="#00ff9c"/><stop offset="0.34" stop-color="#00ffab"/><stop offset="0.51" stop-color="#00ff92"/><stop offset="0.66" stop-color="#00ff82"/><stop offset="0.81" stop-color="#00ff7c"/><stop offset="1" stop-color="#00ff7c"/></linearGradient><linearGradient id="g93" x2="0" y2="1"><stop offset="0" stop-color="#00ff8f"/><stop offset="0.18" stop-color="#00ff99"/><stop offset="0.34" stop-color="#00ffa8"/><stop offset="0.51" stop-color="#00ff8e"/><stop offset="0.66" stop-color="#00ff7e"/><stop offset="0.81" stop-color="#00ff78"/><stop offset="1" stop-color="#00ff79"/></linearGradient><linearGradient id="g94" x2="0" y2="1"><stop offset="0" stop-color="#00ff8b"/><stop offset="0.18" stop-color="#00ff95"/><stop offset="0.34" stop-color="#00ffa5"/><stop offset="0.51" stop-color="#00ff8b"/><stop offset="0.66" stop-color="#00ff7a"/><stop offset="0.81" stop-color="#00ff74"/><stop offset="1" stop-color="#00ff75"/></linearGradient><linearGradient id="g95" x2="0" y2="1"><stop offset="0" stop-color="#00ff87"/><stop offset="0.18" stop-color="#00ff91"/><stop offset="0.34" stop-color="#00ffa2"/><stop offset="0.51" stop-color="#00ff87"/><stop offset="0.66" stop-color="#00ff76"/><stop offset="0.81" stop-color="#00ff70"/><stop offset="1" stop-color="#00ff70"/></linearGradient><linearGradient id="g96" x2="0" y2="1"><stop offset="0" stop-color="#00ff82"/><stop offset="0.17" stop-color="#00ff8c"/><stop offset="0.34" stop-color="#00ff9e"/><stop offset="0.51" stop-color="#00ff83"/><stop offset="0.66" stop-color="#00ff72"/><stop offset="0.81" stop-color="#00ff6b"/><stop offset="1" stop-color="#00ff6c"/></linearGradient><linearGradient id="g97" x2="0" y2="1"><stop offset="0" stop-color="#00ff7d"/><stop offset="0.17" stop-color="#00ff88"/><stop offset="0.34" stop-color="#00ff9a"/><stop offset="0.51" stop-color="#00ff7e"/><stop offset="0.66" stop-color="#00ff6d"/><stop offset="0.81" stop-color="#00ff66"/><stop offset="1" stop-color="#00ff67"/></linearGradient><linearGradient id="g98" x2="0" y2="1"><stop offset="0" stop-color="#00ff7e"/><stop offset="0.18" stop-color="#00ff86"/><stop offset="0.34" stop-color="#00ff95"/><stop offset="0.51" stop-color="#00ff79"/><stop offset="0.66" stop-color="#00ff67"/><stop offset="0.81" stop-color="#00ff60"/><stop offset="1" stop-color="#00ff61"/></linearGradient><linearGradient id="g99" x2="0" y2="1"><stop offset="0" stop-color="#00ff80"/><stop offset="0.18" stop-color="#00ff84"/><stop offset="0.34" stop-color="#00ff90"/><stop offset="0.5" stop-color="#00ff73"/><stop offset="0.66" stop-color="#00ff61"/><stop offset="0.8" stop-color="#00ff5a"/><stop offset="1" stop-color="#00ff5b"/></linearGradient><linearGradient id="g100" x2="0" y2="1"><stop offset="0" stop-color="#00ff80"/><stop offset="0.18" stop-color="#00ff81"/><stop offset="0.34" stop-color="#00ff8a"/><stop offset="0.5" stop-color="#00ff6c"/><stop offset="0.66" stop-color="#00ff59"/><stop offset="0.8" stop-color="#00ff52"/><stop offset="1" stop-color="#00ff54"/></linearGradient><linearGradient id="g101" x2="0" y2="1"><stop offset="0" stop-color="#00ff80"/><stop offset="0.18" stop-color="#00ff7c"/><stop offset="0.34" stop-color="#00ff82"/><stop offset="0.5" stop-color="#00ff63"/><stop offset="0.66" stop-color="#00ff50"/><stop offset="0.8" stop-color="#00ff49"/><stop offset="1" stop-color="#00ff4b"/></linearGradient><linearGradient id="g102" x2="0" y2="1"><stop offset="0" stop-color="#00ff7d"/><stop offset="0.18" stop-color="#00ff75"/><stop offset="0.34" stop-color="#00ff77"/><stop offset="0.53" stop-color="#00ff54"/><stop offset="0.71" stop-color="#00ff41"/><stop offset="0.82" stop-color="#00ff3d"/><stop offset="1" stop-color="#00ff40"/></linearGradient><linearGradient id="g103" x2="0" y2="1"><stop offset="0" stop-color="#00ff76"/><stop offset="0.19" stop-color="#00ff69"/><stop offset="0.34" stop-color="#00ff68"/><stop offset="0.52" stop-color="#00ff45"/><stop offset="0.69" stop-color="#00ff33"/><stop offset="0.82" stop-color="#00ff2e"/><stop offset="1" stop-color="#00ff33"/></linearGradient><linearGradient id="g104" x2="0" y2="1"><stop offset="0" stop-color="#00ff64"/><stop offset="0.19" stop-color="#00ff53"/><stop offset="0.34" stop-color="#00ff4f"/><stop offset="0.51" stop-color="#00ff2e"/><stop offset="0.67" stop-color="#00ff1c"/><stop offset="0.81" stop-color="#00ff18"/><stop offset="1" stop-color="#00ff1f"/></linearGradient><linearGradient id="g105" x2="0" y2="1"><stop offset="0" stop-color="#00ff43"/><stop offset="0.19" stop-color="#00ff2f"/><stop offset="0.34" stop-color="#00ff2a"/><stop offset="0.48" stop-color="#00ff10"/><stop offset="0.61" stop-color="#00ff00"/><stop offset="0.74" stop-color="#05ff00"/><stop offset="0.88" stop-color="#00ff00"/><stop offset="1" stop-color="#00ff09"/></linearGradient><linearGradient id="g106" x2="0" y2="1"><stop offset="0" stop-color="#00ff23"/><stop offset="0.19" stop-color="#00ff0e"/><stop offset="0.34" stop-color="#00ff08"/><stop offset="0.38" stop-color="#00ff00"/><stop offset="0.54" stop-color="#16ff00"/><stop offset="0.69" stop-color="#1fff00"/><stop offset="0.81" stop-color="#1bff00"/><stop offset="1" stop-color="#08ff00"/></linearGradient><linearGradient id="g107" x2="0" y2="1"><stop offset="0" stop-color="#00ff0b"/><stop offset="0.08" stop-color="#00ff00"/><stop offset="0.21" stop-color="#0fff00"/><stop offset="0.34" stop-color="#14ff00"/><stop offset="0.49" stop-color="#2aff00"/><stop offset="0.63" stop-color="#34ff00"/><stop offset="0.79" stop-color="#2fff00"/><stop offset="1" stop-color="#15ff00"/></linearGradient><linearGradient id="g108" x2="0" y2="1"><stop offset="0" stop-color="#0bff00"/><stop offset="0.18" stop-color="#24ff00"/><stop offset="0.34" stop-color="#2dff00"/><stop offset="0.47" stop-color="#3fff00"/><stop offset="0.59" stop-color="#47ff00"/><stop offset="0.77" stop-color="#40ff00"/><stop offset="1" stop-color="#1fff00"/></linearGradient><linearGradient id="g109" x2="0" y2="1"><stop offset="0" stop-color="#1eff00"/><stop offset="0.2" stop-color="#3cff00"/><stop offset="0.34" stop-color="#44ff00"/><stop offset="0.48" stop-color="#55ff00"/><stop offset="0.58" stop-color="#59ff00"/><stop offset="0.77" stop-color="#4fff00"/><stop offset="1" stop-color="#29ff00"/></linearGradient><linearGradient id="g110" x2="0" y2="1"><stop offset="0" stop-color="#2fff00"/><stop offset="0.22" stop-color="#51ff00"/><stop offset="0.34" stop-color="#59ff00"/><stop offset="0.46" stop-color="#67ff00"/><stop offset="0.57" stop-color="#6bff00"/><stop offset="0.66" stop-color="#68ff00"/><stop offset="0.76" stop-color="#5eff00"/><stop offset="1" stop-color="#31ff00"/></linearGradient><linearGradient id="g111" x2="0" y2="1"><stop offset="0" stop-color="#40ff00"/><stop offset="0.22" stop-color="#65ff00"/><stop offset="0.45" stop-color="#78ff00"/><stop offset="0.55" stop-color="#7bff00"/><stop offset="0.65" stop-color="#77ff00"/><stop offset="0.75" stop-color="#6cff00"/><stop offset="1" stop-color="#39ff00"/></linearGradient><linearGradient id="g112" x2="0" y2="1"><stop offset="0" stop-color="#4fff00"/><stop offset="0.24" stop-color="#79ff00"/><stop offset="0.43" stop-color="#89ff00"/><stop offset="0.54" stop-color="#8cff00"/><stop offset="0.64" stop-color="#86ff00"/><stop offset="0.75" stop-color="#79ff00"/><stop offset="1" stop-color="#40ff00"/></linearGradient><linearGradient id="g113" x2="0" y2="1"><stop offset="0" stop-color="#5eff00"/><stop offset="0.15" stop-color="#7dff00"/><stop offset="0.24" stop-color="#8bff00"/><stop offset="0.42" stop-color="#9aff00"/><stop offset="0.53" stop-color="#9bff00"/><stop offset="0.63" stop-color="#95ff00"/><stop offset="0.74" stop-color="#86ff00"/><stop offset="1" stop-color="#47ff00"/></linearGradient><linearGradient id="g114" x2="0" y2="1"><stop offset="0" stop-color="#6cff00"/><stop offset="0.02" stop-color="#6dff00"/><stop offset="0.15" stop-color="#8dff00"/><stop offset="0.25" stop-color="#9dff00"/><stop offset="0.41" stop-color="#aaff00"/><stop offset="0.52" stop-color="#abff00"/><stop offset="0.62" stop-color="#a3ff00"/><stop offset="0.74" stop-color="#92ff00"/><stop offset="0.83" stop-color="#7dff00"/><stop offset="1" stop-color="#4dff00"/></linearGradient><linearGradient id="g115" x2="0" y2="1"><stop offset="0" stop-color="#7aff00"/><stop offset="0.02" stop-color="#7bff00"/><stop offset="0.15" stop-color="#9eff00"/><stop offset="0.26" stop-color="#aeff00"/><stop offset="0.39" stop-color="#baff00"/><stop offset="0.51" stop-color="#baff00"/><stop offset="0.62" stop-color="#b1ff00"/><stop offset="0.73" stop-color="#9eff00"/><stop offset="0.82" stop-color="#87ff00"/><stop offset="1" stop-color="#53ff00"/></linearGradient><linearGradient id="g116" x2="0" y2="1"><stop offset="0" stop-color="#88ff00"/><stop offset="0.02" stop-color="#88ff00"/><stop offset="0.15" stop-color="#adff00"/><stop offset="0.26" stop-color="#bfff00"/><stop offset="0.38" stop-color="#caff00"/><stop offset="0.5" stop-color="#c9ff00"/><stop offset="0.61" stop-color="#bfff00"/><stop offset="0.72" stop-color="#aaff00"/><stop offset="0.82" stop-color="#91ff00"/><stop offset="1" stop-color="#58ff00"/></linearGradient><linearGradient id="g117" x2="0" y2="1"><stop offset="0" stop-color="#9aff00"/><stop offset="0.02" stop-color="#9aff00"/><stop offset="0.15" stop-color="#beff00"/><stop offset="0.26" stop-color="#d0ff00"/><stop offset="0.38" stop-color="#d9ff00"/><stop offset="0.49" stop-color="#d8ff00"/><stop offset="0.61" stop-color="#ccff00"/><stop offset="0.72" stop-color="#b5ff00"/><stop offset="0.82" stop-color="#9aff00"/><stop offset="1" stop-color="#5dff00"/></linearGradient><linearGradient id="g118" x2="0" y2="1"><stop offset="0" stop-color="#aeff00"/><stop offset="0.02" stop-color="#aeff00"/><stop offset="0.15" stop-color="#d0ff00"/><stop offset="0.26" stop-color="#e1ff00"/><stop offset="0.38" stop-color="#e9ff00"/><stop offset="0.49" stop-color="#e6ff00"/><stop offset="0.61" stop-color="#d8ff00"/><stop offset="0.72" stop-color="#bfff00"/><stop offset="0.82" stop-color="#a2ff00"/><stop offset="1" stop-color="#62ff00"/></linearGradient><linearGradient id="g119" x2="0" y2="1"><stop offset="0" stop-color="#c1ff00"/><stop offset="0.02" stop-color="#c1ff00"/><stop offset="0.15" stop-color="#e2ff00"/><stop offset="0.26" stop-color="#f2ff00"/><stop offset="0.38" stop-color="#f8ff00"/><stop offset="0.49" stop-color="#f3ff00"/><stop offset="0.6" stop-color="#e4ff00"/><stop offset="0.72" stop-color="#c9ff00"/><stop offset="0.82" stop-color="#aaff00"/><stop offset="1" stop-color="#67ff00"/></linearGradient><linearGradient id="g120" x2="0" y2="1"><stop offset="0" stop-color="#d4ff00"/><stop offset="0.02" stop-color="#d4ff00"/><stop offset="0.14" stop-color="#f1ff00"/><stop offset="0.22" stop-color="#ffff00"/><stop offset="0.36" stop-color="#fff500"/><stop offset="0.5" stop-color="#ffff00"/><stop offset="0.61" stop-color="#edff00"/><stop offset="0.72" stop-color="#d1ff00"/><stop offset="0.82" stop-color="#b1ff00"/><stop offset="1" stop-color="#6bff00"/></linearGradient><linearGradient id="g121" x2="0" y2="1"><stop offset="0" stop-color="#e7ff00"/><stop offset="0.12" stop-color="#ffff00"/><stop offset="0.23" stop-color="#ffe900"/><stop offset="0.35" stop-color="#ffe200"/><stop offset="0.46" stop-color="#ffe900"/><stop offset="0.58" stop-color="#ffff00"/><stop offset="0.67" stop-color="#eaff00"/><stop offset="0.76" stop-color="#cfff00"/><stop offset="1" stop-color="#6eff00"/></linearGradient><linearGradient id="g122" x2="0" y2="1"><stop offset="0" stop-color="#f9ff00"/><stop offset="0.04" stop-color="#ffff00"/><stop offset="0.12" stop-color="#ffe800"/><stop offset="0.2" stop-color="#ffd800"/><stop offset="0.33" stop-color="#ffcf00"/><stop offset="0.47" stop-color="#ffdb00"/><stop offset="0.62" stop-color="#ffff00"/><stop offset="0.78" stop-color="#cfff00"/><stop offset="1" stop-color="#72ff00"/></linearGradient><linearGradient id="g123" x2="0" y2="1"><stop offset="0" stop-color="#ffef00"/><stop offset="0.02" stop-color="#ffef00"/><stop offset="0.1" stop-color="#ffd700"/><stop offset="0.18" stop-color="#ffc700"/><stop offset="0.26" stop-color="#ffbe00"/><stop offset="0.34" stop-color="#ffbd00"/><stop offset="0.42" stop-color="#ffc300"/><stop offset="0.5" stop-color="#ffcf00"/><stop offset="0.58" stop-color="#ffe400"/><stop offset="0.66" stop-color="#ffff00"/><stop offset="0.79" stop-color="#d1ff00"/><stop offset="1" stop-color="#75ff00"/></linearGradient><linearGradient id="g124" x2="0" y2="1"><stop offset="0" stop-color="#ffd900"/><stop offset="0.18" stop-color="#ffb200"/><stop offset="0.26" stop-color="#ffab00"/><stop offset="0.34" stop-color="#ffac00"/><stop offset="0.43" stop-color="#ffb400"/><stop offset="0.51" stop-color="#ffc500"/><stop offset="0.59" stop-color="#ffdd00"/><stop offset="0.68" stop-color="#ffff00"/><stop offset="0.8" stop-color="#d2ff00"/><stop offset="1" stop-color="#77ff00"/></linearGradient><linearGradient id="g125" x2="0" y2="1"><stop offset="0" stop-color="#ffc300"/><stop offset="0.02" stop-color="#ffc200"/><stop offset="0.11" stop-color="#ffa900"/><stop offset="0.19" stop-color="#ff9e00"/><stop offset="0.27" stop-color="#ff9900"/><stop offset="0.35" stop-color="#ff9c00"/><stop offset="0.44" stop-color="#ffa800"/><stop offset="0.53" stop-color="#ffbc00"/><stop offset="0.61" stop-color="#ffd800"/><stop offset="0.7" stop-color="#ffff00"/><stop offset="0.8" stop-color="#d6ff00"/><stop offset="1" stop-color="#79ff00"/></linearGradient><linearGradient id="g126" x2="0" y2="1"><stop offset="0" stop-color="#ffad00"/><stop offset="0.11" stop-color="#ff9600"/><stop offset="0.19" stop-color="#ff8b00"/><stop offset="0.28" stop-color="#ff8800"/><stop offset="0.36" stop-color="#ff8d00"/><stop offset="0.45" stop-color="#ff9c00"/><stop offset="0.54" stop-color="#ffb300"/><stop offset="0.63" stop-color="#ffd400"/><stop offset="0.72" stop-color="#fffe00"/><stop offset="0.81" stop-color="#d9ff00"/><stop offset="1" stop-color="#7bff00"/></linearGradient><linearGradient id="g127" x2="0" y2="1"><stop offset="0" stop-color="#ff9900"/><stop offset="0.11" stop-color="#ff8300"/><stop offset="0.19" stop-color="#ff7900"/><stop offset="0.28" stop-color="#ff7800"/><stop offset="0.37" stop-color="#ff8000"/><stop offset="0.46" stop-color="#ff9100"/><stop offset="0.55" stop-color="#ffab00"/><stop offset="0.64" stop-color="#ffd100"/><stop offset="0.73" stop-color="#ffff00"/><stop offset="1" stop-color="#7cff00"/></linearGradient><linearGradient id="g128" x2="0" y2="1"><stop offset="0" stop-color="#ff8500"/><stop offset="0.11" stop-color="#ff7000"/><stop offset="0.19" stop-color="#ff6800"/><stop offset="0.28" stop-color="#ff6900"/><stop offset="0.37" stop-color="#ff7200"/><stop offset="0.46" stop-color="#ff8600"/><stop offset="0.55" stop-color="#ffa400"/><stop offset="0.65" stop-color="#ffcb00"/><stop offset="0.74" stop-color="#fffe00"/><stop offset="1" stop-color="#7cff00"/></linearGradient><linearGradient id="g129" x2="0" y2="1"><stop offset="0" stop-color="#ff7200"/><stop offset="0.11" stop-color="#ff5f00"/><stop offset="0.2" stop-color="#ff5800"/><stop offset="0.29" stop-color="#ff5a00"/><stop offset="0.38" stop-color="#ff6600"/><stop offset="0.47" stop-color="#ff7d00"/><stop offset="0.56" stop-color="#ff9d00"/><stop offset="0.66" stop-color="#ffc900"/><stop offset="0.75" stop-color="#ffff00"/><stop offset="1" stop-color="#7cff00"/></linearGradient><linearGradient id="g130" x2="0" y2="1"><stop offset="0" stop-color="#ff6000"/><stop offset="0.11" stop-color="#ff4e00"/><stop offset="0.2" stop-color="#ff4900"/><stop offset="0.29" stop-color="#ff4d00"/><stop offset="0.38" stop-color="#ff5b00"/><stop offset="0.47" stop-color="#ff7400"/><stop offset="0.57" stop-color="#ff9800"/><stop offset="0.66" stop-color="#ffc600"/><stop offset="0.76" stop-color="#ffff00"/><stop offset="1" stop-color="#7cff00"/></linearGradient><linearGradient id="g131" x2="0" y2="1"><stop offset="0" stop-color="#ff4f00"/><stop offset="0.11" stop-color="#ff3f00"/><stop offset="0.2" stop-color="#ff3b00"/><stop offset="0.29" stop-color="#ff4100"/><stop offset="0.38" stop-color="#ff5100"/><stop offset="0.47" stop-color="#ff6b00"/><stop offset="0.57" stop-color="#ff9100"/><stop offset="0.66" stop-color="#ffc100"/><stop offset="0.76" stop-color="#fffd00"/><stop offset="1" stop-color="#7aff00"/></linearGradient><linearGradient id="g132" x2="0" y2="1"><stop offset="0" stop-color="#ff3f00"/><stop offset="0.11" stop-color="#ff3100"/><stop offset="0.2" stop-color="#ff2e00"/><stop offset="0.29" stop-color="#ff3500"/><stop offset="0.38" stop-color="#ff4700"/><stop offset="0.47" stop-color="#ff6400"/><stop offset="0.57" stop-color="#ff8c00"/><stop offset="0.66" stop-color="#ffbf00"/><stop offset="0.76" stop-color="#fffe00"/><stop offset="1" stop-color="#79ff00"/></linearGradient><linearGradient id="g133" x2="0" y2="1"><stop offset="0" stop-color="#ff3000"/><stop offset="0.11" stop-color="#ff2300"/><stop offset="0.2" stop-color="#ff2200"/><stop offset="0.29" stop-color="#ff2c00"/><stop offset="0.38" stop-color="#ff3f00"/><stop offset="0.48" stop-color="#ff5f00"/><stop offset="0.57" stop-color="#ff8900"/><stop offset="0.67" stop-color="#ffbe00"/><stop offset="0.77" stop-color="#ffff00"/><stop offset="1" stop-color="#76ff00"/></linearGradient><linearGradient id="g134" x2="0" y2="1"><stop offset="0" stop-color="#ff2200"/><stop offset="0.11" stop-color="#ff1700"/><stop offset="0.19" stop-color="#ff1800"/><stop offset="0.29" stop-color="#ff2200"/><stop offset="0.38" stop-color="#ff3700"/><stop offset="0.47" stop-color="#ff5800"/><stop offset="0.57" stop-color="#ff8400"/><stop offset="0.67" stop-color="#ffbc00"/><stop offset="0.77" stop-color="#ffff00"/><stop offset="1" stop-color="#73ff00"/></linearGradient><linearGradient id="g135" x2="0" y2="1"><stop offset="0" stop-color="#ff1500"/><stop offset="0.11" stop-color="#ff0c00"/><stop offset="0.19" stop-color="#ff0e00"/><stop offset="0.29" stop-color="#ff1a00"/><stop offset="0.38" stop-color="#ff3100"/><stop offset="0.47" stop-color="#ff5400"/><stop offset="0.57" stop-color="#ff8100"/><stop offset="0.66" stop-color="#ffb900"/><stop offset="0.77" stop-color="#ffff00"/><stop offset="1" stop-color="#70ff00"/></linearGradient><linearGradient id="g136" x2="0" y2="1"><stop offset="0" stop-color="#ff0a00"/><stop offset="0.1" stop-color="#ff0300"/><stop offset="0.19" stop-color="#ff0600"/><stop offset="0.29" stop-color="#ff1400"/><stop offset="0.38" stop-color="#ff2c00"/><stop offset="0.47" stop-color="#ff4f00"/><stop offset="0.57" stop-color="#ff7e00"/><stop offset="0.66" stop-color="#ffb900"/><stop offset="0.76" stop-color="#ffff00"/><stop offset="1" stop-color="#6cff00"/></linearGradient><linearGradient id="g137" x2="0" y2="1"><stop offset="0" stop-color="#ff0000"/><stop offset="0.21" stop-color="#ff0000"/><stop offset="0.29" stop-color="#ff0f00"/><stop offset="0.38" stop-color="#ff2700"/><stop offset="0.47" stop-color="#ff4c00"/><stop offset="0.56" stop-color="#ff7c00"/><stop offset="0.66" stop-color="#ffb600"/><stop offset="0.76" stop-color="#ffff00"/><stop offset="1" stop-color="#67ff00"/></linearGradient><linearGradient id="g138" x2="0" y2="1"><stop offset="0" stop-color="#ff0000"/><stop offset="0.24" stop-color="#ff0000"/><stop offset="0.36" stop-color="#ff2100"/><stop offset="0.46" stop-color="#ff4700"/><stop offset="0.55" stop-color="#ff7700"/><stop offset="0.65" stop-color="#ffb500"/><stop offset="0.75" stop-color="#ffff00"/><stop offset="1" stop-color="#61ff00"/></linearGradient><linearGradient id="g139" x2="0" y2="1"><stop offset="0" stop-color="#ff0000"/><stop offset="0.26" stop-color="#ff0000"/><stop offset="0.35" stop-color="#ff1b00"/><stop offset="0.45" stop-color="#ff4100"/><stop offset="0.54" stop-color="#ff7400"/><stop offset="0.65" stop-color="#ffb400"/><stop offset="0.75" stop-color="#ffff00"/><stop offset="1" stop-color="#5bff00"/></linearGradient><linearGradient id="g140" x2="0" y2="1"><stop offset="0" stop-color="#ff0000"/><stop offset="0.26" stop-color="#ff0000"/><stop offset="0.34" stop-color="#ff1600"/><stop offset="0.44" stop-color="#ff3e00"/><stop offset="0.54" stop-color="#ff7100"/><stop offset="0.64" stop-color="#ffb100"/><stop offset="0.74" stop-color="#ffff00"/><stop offset="1" stop-color="#55ff00"/></linearGradient><linearGradient id="g141" x2="0" y2="1"><stop offset="0" stop-color="#ff0000"/><stop offset="0.26" stop-color="#ff0000"/><stop offset="0.33" stop-color="#ff1400"/><stop offset="0.43" stop-color="#ff3c00"/><stop offset="0.53" stop-color="#ff7000"/><stop offset="0.63" stop-color="#ffb000"/><stop offset="0.73" stop-color="#ffff00"/><stop offset="1" stop-color="#4dff00"/></linearGradient><linearGradient id="g142" x2="0" y2="1"><stop offset="0" stop-color="#ff0000"/><stop offset="0.26" stop-color="#ff0000"/><stop offset="0.32" stop-color="#ff1200"/><stop offset="0.42" stop-color="#ff3b00"/><stop offset="0.52" stop-color="#ff6f00"/><stop offset="0.62" stop-color="#ffb000"/><stop offset="0.72" stop-color="#ffff00"/><stop offset="1" stop-color="#45ff00"/></linearGradient><linearGradient id="g143" x2="0" y2="1"><stop offset="0" stop-color="#ff0000"/><stop offset="0.26" stop-color="#ff0000"/><stop offset="0.31" stop-color="#ff1200"/><stop offset="0.41" stop-color="#ff3b00"/><stop offset="0.51" stop-color="#ff6f00"/><stop offset="0.61" stop-color="#ffaf00"/><stop offset="0.71" stop-color="#ffff00"/><stop offset="1" stop-color="#3dff00"/></linearGradient><linearGradient id="g144" x2="0" y2="1"><stop offset="0" stop-color="#ff0000"/><stop offset="0.24" stop-color="#ff0000"/><stop offset="0.3" stop-color="#ff1400"/><stop offset="0.4" stop-color="#ff3c00"/><stop offset="0.5" stop-color="#ff7100"/><stop offset="0.6" stop-color="#ffb200"/><stop offset="0.7" stop-color="#ffff00"/><stop offset="1" stop-color="#34ff00"/></linearGradient><linearGradient id="g145" x2="0" y2="1"><stop offset="0" stop-color="#ff0000"/><stop offset="0.23" stop-color="#ff0000"/><stop offset="0.3" stop-color="#ff1700"/><stop offset="0.39" stop-color="#ff4000"/><stop offset="0.49" stop-color="#ff7300"/><stop offset="0.59" stop-color="#ffb300"/><stop offset="0.69" stop-color="#ffff00"/><stop offset="1" stop-color="#2bff00"/></linearGradient><linearGradient id="g146" x2="0" y2="1"><stop offset="0" stop-color="#ff0000"/><stop offset="0.21" stop-color="#ff0000"/><stop offset="0.29" stop-color="#ff1b00"/><stop offset="0.38" stop-color="#ff4300"/><stop offset="0.48" stop-color="#ff7600"/><stop offset="0.58" stop-color="#ffb400"/><stop offset="0.67" stop-color="#fffe00"/><stop offset="0.77" stop-color="#c2ff00"/><stop offset="1" stop-color="#21ff00"/></linearGradient><linearGradient id="g147" x2="0" y2="1"><stop offset="0" stop-color="#ff0000"/><stop offset="0.19" stop-color="#ff0000"/><stop offset="0.29" stop-color="#ff2000"/><stop offset="0.38" stop-color="#ff4800"/><stop offset="0.47" stop-color="#ff7a00"/><stop offset="0.56" stop-color="#ffb600"/><stop offset="0.66" stop-color="#ffff00"/><stop offset="0.77" stop-color="#bbff00"/><stop offset="1" stop-color="#17ff00"/></linearGradient><linearGradient id="g148" x2="0" y2="1"><stop offset="0" stop-color="#ff0000"/><stop offset="0.16" stop-color="#ff0000"/><stop offset="0.28" stop-color="#ff2700"/><stop offset="0.37" stop-color="#ff4f00"/><stop offset="0.46" stop-color="#ff8000"/><stop offset="0.55" stop-color="#ffb900"/><stop offset="0.65" stop-color="#ffff00"/><stop offset="0.76" stop-color="#b5ff00"/><stop offset="1" stop-color="#0cff00"/></linearGradient><linearGradient id="g149" x2="0" y2="1"><stop offset="0" stop-color="#ff0000"/><stop offset="0.13" stop-color="#ff0000"/><stop offset="0.21" stop-color="#ff1500"/><stop offset="0.28" stop-color="#ff3100"/><stop offset="0.37" stop-color="#ff5600"/><stop offset="0.45" stop-color="#ff8500"/><stop offset="0.54" stop-color="#ffbd00"/><stop offset="0.63" stop-color="#fffe00"/><stop offset="0.75" stop-color="#b1ff00"/><stop offset="1" stop-color="#01ff00"/></linearGradient><linearGradient id="g150" x2="0" y2="1"><stop offset="0" stop-color="#ff0000"/><stop offset="0.1" stop-color="#ff0300"/><stop offset="0.19" stop-color="#ff1a00"/><stop offset="0.28" stop-color="#ff3b00"/><stop offset="0.36" stop-color="#ff6000"/><stop offset="0.44" stop-color="#ff8c00"/><stop offset="0.52" stop-color="#ffbf00"/><stop offset="0.61" stop-color="#feff00"/><stop offset="0.75" stop-color="#a6ff00"/><stop offset="0.98" stop-color="#06ff00"/><stop offset="0.98" stop-color="#00ff00"/><stop offset="1" stop-color="#00ff0a"/></linearGradient><linearGradient id="g151" x2="0" y2="1"><stop offset="0" stop-color="#ff0000"/><stop offset="0.04" stop-color="#ff0000"/><stop offset="0.13" stop-color="#ff1200"/><stop offset="0.21" stop-color="#ff2900"/><stop offset="0.28" stop-color="#ff4600"/><stop offset="0.36" stop-color="#ff6900"/><stop offset="0.43" stop-color="#ff9400"/><stop offset="0.59" stop-color="#feff00"/><stop offset="0.74" stop-color="#a1ff00"/><stop offset="0.97" stop-color="#00ff00"/><stop offset="1" stop-color="#00ff16"/></linearGradient><linearGradient id="g152" x2="0" y2="1"><stop offset="0" stop-color="#ff0600"/><stop offset="0.06" stop-color="#ff0c00"/><stop offset="0.13" stop-color="#ff1d00"/><stop offset="0.28" stop-color="#ff5000"/><stop offset="0.42" stop-color="#ff9a00"/><stop offset="0.57" stop-color="#fffe00"/><stop offset="0.73" stop-color="#9eff00"/><stop offset="0.95" stop-color="#01ff00"/><stop offset="1" stop-color="#00ff22"/></linearGradient><linearGradient id="g153" x2="0" y2="1"><stop offset="0" stop-color="#ff1000"/><stop offset="0.05" stop-color="#ff1500"/><stop offset="0.13" stop-color="#ff2700"/><stop offset="0.27" stop-color="#ff5900"/><stop offset="0.41" stop-color="#ff9f00"/><stop offset="0.55" stop-color="#fffe00"/><stop offset="0.72" stop-color="#9aff00"/><stop offset="0.93" stop-color="#01ff00"/><stop offset="1" stop-color="#00ff2e"/></linearGradient><linearGradient id="g154" x2="0" y2="1"><stop offset="0" stop-color="#ff1b00"/><stop offset="0.04" stop-color="#ff1f00"/><stop offset="0.12" stop-color="#ff3100"/><stop offset="0.26" stop-color="#ff6100"/><stop offset="0.39" stop-color="#ffa500"/><stop offset="0.53" stop-color="#fffe00"/><stop offset="0.7" stop-color="#95ff00"/><stop offset="0.91" stop-color="#02ff00"/><stop offset="1" stop-color="#00ff3a"/></linearGradient><linearGradient id="g155" x2="0" y2="1"><stop offset="0" stop-color="#ff2600"/><stop offset="0.04" stop-color="#ff2b00"/><stop offset="0.11" stop-color="#ff3d00"/><stop offset="0.25" stop-color="#ff6c00"/><stop offset="0.38" stop-color="#ffac00"/><stop offset="0.51" stop-color="#ffff00"/><stop offset="0.69" stop-color="#91ff00"/><stop offset="0.9" stop-color="#00ff00"/><stop offset="1" stop-color="#00ff46"/></linearGradient><linearGradient id="g156" x2="0" y2="1"><stop offset="0" stop-color="#ff3200"/><stop offset="0.03" stop-color="#ff3600"/><stop offset="0.11" stop-color="#ff4800"/><stop offset="0.23" stop-color="#ff7500"/><stop offset="0.36" stop-color="#ffb100"/><stop offset="0.48" stop-color="#ffff00"/><stop offset="0.58" stop-color="#ccff00"/><stop offset="0.67" stop-color="#90ff00"/><stop offset="0.88" stop-color="#01ff00"/><stop offset="1" stop-color="#00ff53"/></linearGradient><linearGradient id="g157" x2="0" y2="1"><stop offset="0" stop-color="#ff3f00"/><stop offset="0.02" stop-color="#ff4100"/><stop offset="0.1" stop-color="#ff5400"/><stop offset="0.22" stop-color="#ff7e00"/><stop offset="0.34" stop-color="#ffb600"/><stop offset="0.46" stop-color="#ffff00"/><stop offset="0.55" stop-color="#cbff00"/><stop offset="0.65" stop-color="#90ff00"/><stop offset="0.86" stop-color="#01ff00"/><stop offset="1" stop-color="#00ff5f"/></linearGradient><linearGradient id="g158" x2="0" y2="1"><stop offset="0" stop-color="#ff4d00"/><stop offset="0.02" stop-color="#ff4d00"/><stop offset="0.09" stop-color="#ff5f00"/><stop offset="0.21" stop-color="#ff8900"/><stop offset="0.32" stop-color="#ffbd00"/><stop offset="0.43" stop-color="#ffff00"/><stop offset="0.53" stop-color="#ceff00"/><stop offset="0.63" stop-color="#92ff00"/><stop offset="0.84" stop-color="#00ff00"/><stop offset="1" stop-color="#00ff6c"/></linearGradient><linearGradient id="g159" x2="0" y2="1"><stop offset="0" stop-color="#ff5b00"/><stop offset="0.02" stop-color="#ff5b00"/><stop offset="0.08" stop-color="#ff6c00"/><stop offset="0.19" stop-color="#ff9200"/><stop offset="0.3" stop-color="#ffc200"/><stop offset="0.4" stop-color="#ffff00"/><stop offset="0.5" stop-color="#cdff00"/><stop offset="0.61" stop-color="#91ff00"/><stop offset="0.71" stop-color="#4fff00"/><stop offset="0.82" stop-color="#00ff00"/><stop offset="0.92" stop-color="#00ff43"/><stop offset="1" stop-color="#00ff79"/></linearGradient><linearGradient id="g160" x2="0" y2="1"><stop offset="0" stop-color="#ff6a00"/><stop offset="0.07" stop-color="#ff7900"/><stop offset="0.18" stop-color="#ff9d00"/><stop offset="0.27" stop-color="#ffc700"/><stop offset="0.38" stop-color="#feff00"/><stop offset="0.48" stop-color="#cdff00"/><stop offset="0.58" stop-color="#92ff00"/><stop offset="0.69" stop-color="#4fff00"/><stop offset="0.8" stop-color="#01ff00"/><stop offset="0.92" stop-color="#00ff52"/><stop offset="1" stop-color="#00ff85"/></linearGradient><linearGradient id="g161" x2="0" y2="1"><stop offset="0" stop-color="#ff7900"/><stop offset="0.06" stop-color="#ff8500"/><stop offset="0.16" stop-color="#ffa600"/><stop offset="0.25" stop-color="#ffcc00"/><stop offset="0.34" stop-color="#feff00"/><stop offset="0.45" stop-color="#cdff00"/><stop offset="0.56" stop-color="#92ff00"/><stop offset="0.67" stop-color="#4fff00"/><stop offset="0.78" stop-color="#01ff00"/><stop offset="0.91" stop-color="#00ff5b"/><stop offset="1" stop-color="#00ff92"/></linearGradient><linearGradient id="g162" x2="0" y2="1"><stop offset="0" stop-color="#ff8900"/><stop offset="0.05" stop-color="#ff9100"/><stop offset="0.14" stop-color="#ffb100"/><stop offset="0.22" stop-color="#ffd400"/><stop offset="0.31" stop-color="#ffff00"/><stop offset="0.42" stop-color="#ceff00"/><stop offset="0.53" stop-color="#94ff00"/><stop offset="0.64" stop-color="#51ff00"/><stop offset="0.77" stop-color="#00ff00"/><stop offset="0.91" stop-color="#00ff66"/><stop offset="1" stop-color="#00ff9f"/></linearGradient><linearGradient id="g163" x2="0" y2="1"><stop offset="0" stop-color="#ff9900"/><stop offset="0.03" stop-color="#ff9d00"/><stop offset="0.12" stop-color="#ffbb00"/><stop offset="0.28" stop-color="#ffff00"/><stop offset="0.39" stop-color="#cdff00"/><stop offset="0.5" stop-color="#93ff00"/><stop offset="0.62" stop-color="#50ff00"/><stop offset="0.74" stop-color="#00ff00"/><stop offset="0.91" stop-color="#00ff74"/><stop offset="1" stop-color="#00ffab"/></linearGradient><linearGradient id="g164" x2="0" y2="1"><stop offset="0" stop-color="#ffa900"/><stop offset="0.02" stop-color="#ffa900"/><stop offset="0.1" stop-color="#ffc400"/><stop offset="0.24" stop-color="#ffff00"/><stop offset="0.35" stop-color="#d0ff00"/><stop offset="0.47" stop-color="#95ff00"/><stop offset="0.6" stop-color="#50ff00"/><stop offset="0.72" stop-color="#01ff00"/><stop offset="0.91" stop-color="#00ff81"/><stop offset="1" stop-color="#00ffb8"/></linearGradient><linearGradient id="g165" x2="0" y2="1"><stop offset="0" stop-color="#ffba00"/><stop offset="0.02" stop-color="#ffba00"/><stop offset="0.08" stop-color="#ffcd00"/><stop offset="0.2" stop-color="#fffe00"/><stop offset="0.22" stop-color="#f9ff00"/><stop offset="0.34" stop-color="#caff00"/><stop offset="0.45" stop-color="#92ff00"/><stop offset="0.58" stop-color="#4eff00"/><stop offset="0.7" stop-color="#01ff00"/><stop offset="0.91" stop-color="#00ff8e"/><stop offset="1" stop-color="#00ffc4"/></linearGradient><linearGradient id="g166" x2="0" y2="1"><stop offset="0" stop-color="#ffcb00"/><stop offset="0.02" stop-color="#ffcb00"/><stop offset="0.05" stop-color="#ffd600"/><stop offset="0.16" stop-color="#ffff00"/><stop offset="0.23" stop-color="#e6ff00"/><stop offset="0.34" stop-color="#baff00"/><stop offset="0.45" stop-color="#85ff00"/><stop offset="0.56" stop-color="#47ff00"/><stop offset="0.68" stop-color="#00ff00"/><stop offset="0.91" stop-color="#00ff9b"/><stop offset="1" stop-color="#00ffd1"/></linearGradient><linearGradient id="g167" x2="0" y2="1"><stop offset="0" stop-color="#ffdc00"/><stop offset="0.02" stop-color="#ffdc00"/><stop offset="0.12" stop-color="#ffff00"/><stop offset="0.24" stop-color="#d3ff00"/><stop offset="0.34" stop-color="#aaff00"/><stop offset="0.44" stop-color="#79ff00"/><stop offset="0.66" stop-color="#00ff00"/><stop offset="0.91" stop-color="#00ffa8"/><stop offset="1" stop-color="#00ffdd"/></linearGradient><linearGradient id="g168" x2="0" y2="1"><stop offset="0" stop-color="#ffed00"/><stop offset="0.02" stop-color="#ffed00"/><stop offset="0.07" stop-color="#feff00"/><stop offset="0.26" stop-color="#beff00"/><stop offset="0.44" stop-color="#6bff00"/><stop offset="0.63" stop-color="#00ff00"/><stop offset="0.75" stop-color="#00ff47"/><stop offset="0.91" stop-color="#00ffb5"/><stop offset="1" stop-color="#00ffe9"/></linearGradient><linearGradient id="g169" x2="0" y2="1"><stop offset="0" stop-color="#ffff00"/><stop offset="0.02" stop-color="#feff00"/><stop offset="0.12" stop-color="#e1ff00"/><stop offset="0.29" stop-color="#a5ff00"/><stop offset="0.44" stop-color="#5cff00"/><stop offset="0.61" stop-color="#01ff00"/><stop offset="0.73" stop-color="#00ff4b"/><stop offset="0.91" stop-color="#00ffc2"/><stop offset="1" stop-color="#00fff5"/></linearGradient><linearGradient id="g170" x2="0" y2="1"><stop offset="0" stop-color="#f2ff00"/><stop offset="0.02" stop-color="#f1ff00"/><stop offset="0.11" stop-color="#d6ff00"/><stop offset="0.27" stop-color="#9bff00"/><stop offset="0.42" stop-color="#57ff00"/><stop offset="0.58" stop-color="#01ff00"/><stop offset="0.72" stop-color="#00ff51"/><stop offset="0.92" stop-color="#00ffd2"/><stop offset="1" stop-color="#00fdff"/></linearGradient><linearGradient id="g171" x2="0" y2="1"><stop offset="0" stop-color="#e4ff00"/><stop offset="0.02" stop-color="#e4ff00"/><stop offset="0.11" stop-color="#c9ff00"/><stop offset="0.26" stop-color="#92ff00"/><stop offset="0.41" stop-color="#51ff00"/><stop offset="0.56" stop-color="#00ff00"/><stop offset="0.71" stop-color="#00ff58"/><stop offset="0.94" stop-color="#00ffec"/><stop offset="0.97" stop-color="#00ffff"/><stop offset="1" stop-color="#00f1ff"/></linearGradient><linearGradient id="g172" x2="0" y2="1"><stop offset="0" stop-color="#d6ff00"/><stop offset="0.02" stop-color="#d6ff00"/><stop offset="0.1" stop-color="#beff00"/><stop offset="0.25" stop-color="#89ff00"/><stop offset="0.39" stop-color="#4bff00"/><stop offset="0.53" stop-color="#01ff00"/><stop offset="0.69" stop-color="#00ff58"/><stop offset="0.95" stop-color="#00fffd"/><stop offset="1" stop-color="#00e5ff"/></linearGradient><linearGradient id="g173" x2="0" y2="1"><stop offset="0" stop-color="#c8ff00"/><stop offset="0.02" stop-color="#c8ff00"/><stop offset="0.09" stop-color="#b3ff00"/><stop offset="0.23" stop-color="#81ff00"/><stop offset="0.36" stop-color="#48ff00"/><stop offset="0.51" stop-color="#00ff00"/><stop offset="0.68" stop-color="#00ff64"/><stop offset="0.93" stop-color="#00fffe"/><stop offset="1" stop-color="#00d9ff"/></linearGradient><linearGradient id="g174" x2="0" y2="1"><stop offset="0" stop-color="#baff00"/><stop offset="0.02" stop-color="#baff00"/><stop offset="0.08" stop-color="#a8ff00"/><stop offset="0.22" stop-color="#78ff00"/><stop offset="0.34" stop-color="#43ff00"/><stop offset="0.48" stop-color="#00ff01"/><stop offset="0.67" stop-color="#00ff6b"/><stop offset="0.91" stop-color="#00ffff"/><stop offset="1" stop-color="#00ceff"/></linearGradient><linearGradient id="g175" x2="0" y2="1"><stop offset="0" stop-color="#acff00"/><stop offset="0.02" stop-color="#abff00"/><stop offset="0.07" stop-color="#9cff00"/><stop offset="0.2" stop-color="#6eff00"/><stop offset="0.32" stop-color="#3cff00"/><stop offset="0.45" stop-color="#00ff00"/><stop offset="0.65" stop-color="#00ff6e"/><stop offset="0.89" stop-color="#00ffff"/><stop offset="1" stop-color="#00c2ff"/></linearGradient><linearGradient id="g176" x2="0" y2="1"><stop offset="0" stop-color="#9dff00"/><stop offset="0.02" stop-color="#9dff00"/><stop offset="0.06" stop-color="#91ff00"/><stop offset="0.19" stop-color="#65ff00"/><stop offset="0.3" stop-color="#37ff00"/><stop offset="0.42" stop-color="#01ff00"/><stop offset="0.62" stop-color="#00ff6d"/><stop offset="0.86" stop-color="#00fffe"/><stop offset="1" stop-color="#00b7ff"/></linearGradient><linearGradient id="g177" x2="0" y2="1"><stop offset="0" stop-color="#8fff00"/><stop offset="0.04" stop-color="#88ff00"/><stop offset="0.17" stop-color="#5dff00"/><stop offset="0.39" stop-color="#00ff00"/><stop offset="0.6" stop-color="#00ff6d"/><stop offset="0.85" stop-color="#00ffff"/><stop offset="0.92" stop-color="#00d1ff"/><stop offset="1" stop-color="#00abff"/></linearGradient><linearGradient id="g178" x2="0" y2="1"><stop offset="0" stop-color="#80ff00"/><stop offset="0.02" stop-color="#7dff00"/><stop offset="0.15" stop-color="#54ff00"/><stop offset="0.36" stop-color="#00ff00"/><stop offset="0.58" stop-color="#00ff70"/><stop offset="0.82" stop-color="#00ffff"/><stop offset="0.92" stop-color="#00c8ff"/><stop offset="1" stop-color="#00a0ff"/></linearGradient><linearGradient id="g179" x2="0" y2="1"><stop offset="0" stop-color="#72ff00"/><stop offset="0.02" stop-color="#71ff00"/><stop offset="0.13" stop-color="#4cff00"/><stop offset="0.32" stop-color="#00ff00"/><stop offset="0.55" stop-color="#00ff6f"/><stop offset="0.8" stop-color="#00ffff"/><stop offset="0.91" stop-color="#00bfff"/><stop offset="1" stop-color="#0094ff"/></linearGradient><linearGradient id="g180" x2="0" y2="1"><stop offset="0" stop-color="#63ff00"/><stop offset="0.02" stop-color="#62ff00"/><stop offset="0.1" stop-color="#46ff00"/><stop offset="0.29" stop-color="#00ff01"/><stop offset="0.52" stop-color="#00ff6e"/><stop offset="0.78" stop-color="#00fffe"/><stop offset="0.91" stop-color="#00b4ff"/><stop offset="1" stop-color="#0089ff"/></linearGradient><linearGradient id="g181" x2="0" y2="1"><stop offset="0" stop-color="#54ff00"/><stop offset="0.02" stop-color="#53ff00"/><stop offset="0.09" stop-color="#3dff00"/><stop offset="0.25" stop-color="#00ff00"/><stop offset="0.49" stop-color="#00ff6c"/><stop offset="0.76" stop-color="#00ffff"/><stop offset="0.9" stop-color="#00abff"/><stop offset="1" stop-color="#007dff"/></linearGradient><linearGradient id="g182" x2="0" y2="1"><stop offset="0" stop-color="#44ff00"/><stop offset="0.02" stop-color="#44ff00"/><stop offset="0.06" stop-color="#37ff00"/><stop offset="0.21" stop-color="#00ff01"/><stop offset="0.46" stop-color="#00ff6c"/><stop offset="0.73" stop-color="#00ffff"/><stop offset="0.9" stop-color="#00a1ff"/><stop offset="1" stop-color="#0071fc"/></linearGradient><linearGradient id="g183" x2="0" y2="1"><stop offset="0" stop-color="#34ff00"/><stop offset="0.02" stop-color="#31ff00"/><stop offset="0.17" stop-color="#00ff00"/><stop offset="0.29" stop-color="#00ff32"/><stop offset="0.42" stop-color="#00ff6a"/><stop offset="0.7" stop-color="#00fffe"/><stop offset="0.89" stop-color="#0096ff"/><stop offset="1" stop-color="#0064fa"/></linearGradient><linearGradient id="g184" x2="0" y2="1"><stop offset="0" stop-color="#24ff00"/><stop offset="0.02" stop-color="#24ff00"/><stop offset="0.12" stop-color="#00ff00"/><stop offset="0.17" stop-color="#00ff11"/><stop offset="0.41" stop-color="#00ff75"/><stop offset="0.68" stop-color="#00ffff"/><stop offset="0.89" stop-color="#0089ff"/><stop offset="1" stop-color="#0058f8"/></linearGradient><linearGradient id="g185" x2="0" y2="1"><stop offset="0" stop-color="#13ff00"/><stop offset="0.02" stop-color="#13ff00"/><stop offset="0.07" stop-color="#00ff00"/><stop offset="0.21" stop-color="#00ff32"/><stop offset="0.41" stop-color="#00ff87"/><stop offset="0.65" stop-color="#00fffe"/><stop offset="0.91" stop-color="#0071fc"/><stop offset="1" stop-color="#004bf5"/></linearGradient><linearGradient id="g186" x2="0" y2="1"><stop offset="0" stop-color="#02ff00"/><stop offset="0.02" stop-color="#00ff00"/><stop offset="0.07" stop-color="#00ff11"/><stop offset="0.27" stop-color="#00ff5c"/><stop offset="0.42" stop-color="#00ffa0"/><stop offset="0.62" stop-color="#00ffff"/><stop offset="0.85" stop-color="#0081ff"/><stop offset="0.9" stop-color="#0065fa"/><stop offset="1" stop-color="#003df2"/></linearGradient><linearGradient id="g187" x2="0" y2="1"><stop offset="0" stop-color="#00ff11"/><stop offset="0.02" stop-color="#00ff11"/><stop offset="0.09" stop-color="#00ff28"/><stop offset="0.27" stop-color="#00ff6d"/><stop offset="0.4" stop-color="#00ffa5"/><stop offset="0.58" stop-color="#00fffe"/><stop offset="0.82" stop-color="#0080ff"/><stop offset="0.89" stop-color="#0059f8"/><stop offset="0.94" stop-color="#0042f3"/><stop offset="1" stop-color="#002ff0"/></linearGradient><linearGradient id="g188" x2="0" y2="1"><stop offset="0" stop-color="#00ff24"/><stop offset="0.02" stop-color="#00ff25"/><stop offset="0.07" stop-color="#00ff38"/><stop offset="0.25" stop-color="#00ff7b"/><stop offset="0.38" stop-color="#00ffb3"/><stop offset="0.54" stop-color="#00ffff"/><stop offset="0.78" stop-color="#007fff"/><stop offset="0.88" stop-color="#004af5"/><stop offset="0.94" stop-color="#0033f0"/><stop offset="1" stop-color="#0021ed"/></linearGradient><linearGradient id="g189" x2="0" y2="1"><stop offset="0" stop-color="#00ff3a"/><stop offset="0.02" stop-color="#00ff3b"/><stop offset="0.06" stop-color="#00ff48"/><stop offset="0.23" stop-color="#00ff88"/><stop offset="0.38" stop-color="#00ffc8"/><stop offset="0.5" stop-color="#00ffff"/><stop offset="0.74" stop-color="#0080ff"/><stop offset="0.87" stop-color="#003bf2"/><stop offset="0.93" stop-color="#0025ed"/><stop offset="1" stop-color="#0014ea"/></linearGradient><linearGradient id="g190" x2="0" y2="1"><stop offset="0" stop-color="#00ff53"/><stop offset="0.03" stop-color="#00ff58"/><stop offset="0.2" stop-color="#00ff94"/><stop offset="0.36" stop-color="#00ffd5"/><stop offset="0.45" stop-color="#00ffff"/><stop offset="0.7" stop-color="#007fff"/><stop offset="0.85" stop-color="#0034f0"/><stop offset="0.92" stop-color="#001aeb"/><stop offset="1" stop-color="#0008e7"/></linearGradient><linearGradient id="g191" x2="0" y2="1"><stop offset="0" stop-color="#00ff6c"/><stop offset="0.02" stop-color="#00ff6d"/><stop offset="0.16" stop-color="#00ff9e"/><stop offset="0.4" stop-color="#00ffff"/><stop offset="0.66" stop-color="#0080ff"/><stop offset="0.8" stop-color="#003af2"/><stop offset="0.89" stop-color="#0018eb"/><stop offset="1" stop-color="#0002e6"/></linearGradient><linearGradient id="g192" x2="0" y2="1"><stop offset="0" stop-color="#00ff82"/><stop offset="0.02" stop-color="#00ff82"/><stop offset="0.13" stop-color="#00ffa7"/><stop offset="0.36" stop-color="#00ffff"/><stop offset="0.63" stop-color="#0080ff"/><stop offset="0.8" stop-color="#0032f0"/><stop offset="0.87" stop-color="#001dec"/><stop offset="1" stop-color="#0009e8"/></linearGradient><linearGradient id="g193" x2="0" y2="1"><stop offset="0" stop-color="#00ff90"/><stop offset="0.02" stop-color="#00ff90"/><stop offset="0.11" stop-color="#00ffae"/><stop offset="0.34" stop-color="#00ffff"/><stop offset="0.39" stop-color="#00ebff"/><stop offset="0.62" stop-color="#0080ff"/><stop offset="0.71" stop-color="#0053f7"/><stop offset="0.79" stop-color="#0034f1"/><stop offset="0.86" stop-color="#0024ed"/><stop offset="1" stop-color="#0014ea"/></linearGradient><linearGradient id="g194" x2="0" y2="1"><stop offset="0" stop-color="#00ff9a"/><stop offset="0.02" stop-color="#00ff9a"/><stop offset="0.1" stop-color="#00ffb4"/><stop offset="0.32" stop-color="#00ffff"/><stop offset="0.38" stop-color="#00e6ff"/><stop offset="0.61" stop-color="#0080ff"/><stop offset="0.7" stop-color="#0056f7"/><stop offset="0.78" stop-color="#003af2"/><stop offset="0.85" stop-color="#0029ee"/><stop offset="1" stop-color="#001cec"/></linearGradient><linearGradient id="g195" x2="0" y2="1"><stop offset="0" stop-color="#00ffa1"/><stop offset="0.02" stop-color="#00ffa1"/><stop offset="0.09" stop-color="#00ffb8"/><stop offset="0.3" stop-color="#00ffff"/><stop offset="0.38" stop-color="#00e2ff"/><stop offset="0.61" stop-color="#0080ff"/><stop offset="0.7" stop-color="#0058f8"/><stop offset="0.77" stop-color="#003ef3"/><stop offset="0.84" stop-color="#002eef"/><stop offset="1" stop-color="#0023ed"/></linearGradient><linearGradient id="g196" x2="0" y2="1"><stop offset="0" stop-color="#00ffa6"/><stop offset="0.02" stop-color="#00ffa7"/><stop offset="0.08" stop-color="#00ffba"/><stop offset="0.3" stop-color="#00ffff"/><stop offset="0.38" stop-color="#00dfff"/><stop offset="0.61" stop-color="#007fff"/><stop offset="0.75" stop-color="#0045f4"/><stop offset="0.84" stop-color="#0034f0"/><stop offset="1" stop-color="#002aef"/></linearGradient><linearGradient id="g197" x2="0" y2="1"><stop offset="0" stop-color="#00ffab"/><stop offset="0.02" stop-color="#00ffab"/><stop offset="0.08" stop-color="#00ffbe"/><stop offset="0.29" stop-color="#00ffff"/><stop offset="0.38" stop-color="#00dcff"/><stop offset="0.61" stop-color="#0080ff"/><stop offset="0.74" stop-color="#004cf5"/><stop offset="0.83" stop-color="#003af2"/><stop offset="1" stop-color="#0031f0"/></linearGradient><linearGradient id="g198" x2="0" y2="1"><stop offset="0" stop-color="#00ffaf"/><stop offset="0.02" stop-color="#00ffaf"/><stop offset="0.07" stop-color="#00ffc0"/><stop offset="0.28" stop-color="#00ffff"/><stop offset="0.38" stop-color="#00daff"/><stop offset="0.61" stop-color="#0080ff"/><stop offset="0.74" stop-color="#0052f7"/><stop offset="0.83" stop-color="#0040f3"/><stop offset="1" stop-color="#0038f1"/></linearGradient><linearGradient id="g199" x2="0" y2="1"><stop offset="0" stop-color="#00ffb3"/><stop offset="0.06" stop-color="#00ffbe"/><stop offset="0.28" stop-color="#00feff"/><stop offset="0.62" stop-color="#0080ff"/><stop offset="0.73" stop-color="#0058f8"/><stop offset="0.82" stop-color="#0047f4"/><stop offset="1" stop-color="#003ff3"/></linearGradient><linearGradient id="g200" x2="0" y2="1"><stop offset="0" stop-color="#00ffb6"/><stop offset="0.06" stop-color="#00ffc1"/><stop offset="0.27" stop-color="#00ffff"/><stop offset="0.62" stop-color="#0080ff"/><stop offset="0.73" stop-color="#005df9"/><stop offset="0.82" stop-color="#004cf5"/><stop offset="1" stop-color="#0046f4"/></linearGradient><linearGradient id="g201" x2="0" y2="1"><stop offset="0" stop-color="#00ffb8"/><stop offset="0.05" stop-color="#00ffc1"/><stop offset="0.27" stop-color="#00feff"/><stop offset="0.63" stop-color="#0080ff"/><stop offset="0.73" stop-color="#0061f9"/><stop offset="0.83" stop-color="#0052f6"/><stop offset="1" stop-color="#004cf5"/></linearGradient><linearGradient id="g202" x2="0" y2="1"><stop offset="0" stop-color="#00ffbb"/><stop offset="0.04" stop-color="#00ffc1"/><stop offset="0.26" stop-color="#00feff"/><stop offset="0.56" stop-color="#0097ff"/><stop offset="0.73" stop-color="#0065fa"/><stop offset="0.83" stop-color="#0056f7"/><stop offset="1" stop-color="#0051f6"/></linearGradient><linearGradient id="g203" x2="0" y2="1"><stop offset="0" stop-color="#00ffbd"/><stop offset="0.03" stop-color="#00ffc2"/><stop offset="0.26" stop-color="#00feff"/><stop offset="0.55" stop-color="#009aff"/><stop offset="0.73" stop-color="#0067fb"/><stop offset="0.83" stop-color="#005af8"/><stop offset="1" stop-color="#0055f7"/></linearGradient><linearGradient id="g204" x2="0" y2="1"><stop offset="0" stop-color="#00ffbf"/><stop offset="0.03" stop-color="#00ffc2"/><stop offset="0.26" stop-color="#00feff"/><stop offset="0.55" stop-color="#009dff"/><stop offset="0.73" stop-color="#0069fb"/><stop offset="0.83" stop-color="#005df9"/><stop offset="1" stop-color="#0059f8"/></linearGradient><linearGradient id="g205" x2="0" y2="1"><stop offset="0" stop-color="#00ffc1"/><stop offset="0.02" stop-color="#00ffc4"/><stop offset="0.26" stop-color="#00ffff"/><stop offset="0.54" stop-color="#009eff"/><stop offset="0.73" stop-color="#006afb"/><stop offset="0.83" stop-color="#005ff9"/><stop offset="1" stop-color="#005bf8"/></linearGradient><linearGradient id="g206" x2="0" y2="1"><stop offset="0" stop-color="#00ffc3"/><stop offset="0.02" stop-color="#00ffc5"/><stop offset="0.25" stop-color="#00ffff"/><stop offset="0.54" stop-color="#00a0ff"/><stop offset="0.73" stop-color="#006bfb"/><stop offset="0.83" stop-color="#0060f9"/><stop offset="1" stop-color="#005cf8"/></linearGradient><linearGradient id="g207" x2="0" y2="1"><stop offset="0" stop-color="#00ffc5"/><stop offset="0.02" stop-color="#00ffc5"/><stop offset="0.25" stop-color="#00feff"/><stop offset="0.54" stop-color="#00a0ff"/><stop offset="0.73" stop-color="#006bfb"/><stop offset="0.83" stop-color="#0061f9"/><stop offset="1" stop-color="#005df9"/></linearGradient><linearGradient id="g208" x2="0" y2="1"><stop offset="0" stop-color="#00ffc6"/><stop offset="0.02" stop-color="#00ffc6"/><stop offset="0.25" stop-color="#00ffff"/><stop offset="0.53" stop-color="#00a1ff"/><stop offset="0.73" stop-color="#006cfb"/><stop offset="0.83" stop-color="#0062fa"/><stop offset="1" stop-color="#005ff9"/></linearGradient><linearGradient id="g209" x2="0" y2="1"><stop offset="0" stop-color="#00ffc7"/><stop offset="0.02" stop-color="#00ffc8"/><stop offset="0.25" stop-color="#00ffff"/><stop offset="0.53" stop-color="#00a2ff"/><stop offset="0.73" stop-color="#006efc"/><stop offset="0.83" stop-color="#0065fa"/><stop offset="1" stop-color="#0062fa"/></linearGradient><linearGradient id="g210" x2="0" y2="1"><stop offset="0" stop-color="#00ffc9"/><stop offset="0.02" stop-color="#00ffc9"/><stop offset="0.25" stop-color="#00ffff"/><stop offset="0.53" stop-color="#00a4ff"/><stop offset="0.73" stop-color="#0071fc"/><stop offset="0.83" stop-color="#0067fb"/><stop offset="1" stop-color="#0065fa"/></linearGradient><linearGradient id="g211" x2="0" y2="1"><stop offset="0" stop-color="#00ffca"/><stop offset="0.02" stop-color="#00ffca"/><stop offset="0.24" stop-color="#00ffff"/><stop offset="0.53" stop-color="#00a5ff"/><stop offset="0.73" stop-color="#0073fd"/><stop offset="0.83" stop-color="#006afb"/><stop offset="1" stop-color="#0067fb"/></linearGradient><linearGradient id="g212" x2="0" y2="1"><stop offset="0" stop-color="#00ffcb"/><stop offset="0.02" stop-color="#00ffcc"/><stop offset="0.24" stop-color="#00ffff"/><stop offset="0.53" stop-color="#00a5ff"/><stop offset="0.73" stop-color="#0075fd"/><stop offset="0.83" stop-color="#006cfb"/><stop offset="1" stop-color="#006afb"/></linearGradient><linearGradient id="g213" x2="0" y2="1"><stop offset="0" stop-color="#00ffcc"/><stop offset="0.02" stop-color="#00ffcd"/><stop offset="0.24" stop-color="#00ffff"/><stop offset="0.53" stop-color="#00a6ff"/><stop offset="0.73" stop-color="#0077fd"/><stop offset="0.83" stop-color="#006efc"/><stop offset="1" stop-color="#006cfb"/></linearGradient><linearGradient id="g214" x2="0" y2="1"><stop offset="0" stop-color="#00ffce"/><stop offset="0.24" stop-color="#00ffff"/><stop offset="0.53" stop-color="#00a7ff"/><stop offset="0.73" stop-color="#0079fe"/><stop offset="0.83" stop-color="#0071fc"/><stop offset="1" stop-color="#006efc"/></linearGradient><linearGradient id="g215" x2="0" y2="1"><stop offset="0" stop-color="#00ffcf"/><stop offset="0.24" stop-color="#00ffff"/><stop offset="0.53" stop-color="#00a8ff"/><stop offset="0.73" stop-color="#007bfe"/><stop offset="0.83" stop-color="#0073fd"/><stop offset="1" stop-color="#0071fc"/></linearGradient><linearGradient id="g216" x2="0" y2="1"><stop offset="0" stop-color="#00ffd0"/><stop offset="0.24" stop-color="#00ffff"/><stop offset="0.53" stop-color="#00a9ff"/><stop offset="0.73" stop-color="#007cfe"/><stop offset="0.83" stop-color="#0075fd"/><stop offset="1" stop-color="#0073fd"/></linearGradient><linearGradient id="g217" x2="0" y2="1"><stop offset="0" stop-color="#00ffd1"/><stop offset="0.23" stop-color="#00ffff"/><stop offset="0.54" stop-color="#00a9ff"/><stop offset="0.73" stop-color="#007eff"/><stop offset="0.83" stop-color="#0076fd"/><stop offset="1" stop-color="#0075fd"/></linearGradient><linearGradient id="g218" x2="0" y2="1"><stop offset="0" stop-color="#00ffd1"/><stop offset="0.23" stop-color="#00ffff"/><stop offset="0.54" stop-color="#00aaff"/><stop offset="0.73" stop-color="#0080ff"/><stop offset="0.83" stop-color="#0078fe"/><stop offset="1" stop-color="#0076fd"/></linearGradient><linearGradient id="g219" x2="0" y2="1"><stop offset="0" stop-color="#00ffd2"/><stop offset="0.23" stop-color="#00ffff"/><stop offset="0.54" stop-color="#00abff"/><stop offset="0.73" stop-color="#0081ff"/><stop offset="0.83" stop-color="#007afe"/><stop offset="1" stop-color="#0078fe"/></linearGradient><linearGradient id="g220" x2="0" y2="1"><stop offset="0" stop-color="#00ffd3"/><stop offset="0.23" stop-color="#00ffff"/><stop offset="0.54" stop-color="#00abff"/><stop offset="0.73" stop-color="#0082ff"/><stop offset="0.83" stop-color="#007cfe"/><stop offset="1" stop-color="#007afe"/></linearGradient><linearGradient id="g221" x2="0" y2="1"><stop offset="0" stop-color="#00ffd4"/><stop offset="0.23" stop-color="#00ffff"/><stop offset="0.53" stop-color="#00adff"/><stop offset="0.73" stop-color="#0084ff"/><stop offset="0.83" stop-color="#007dff"/><stop offset="1" stop-color="#007cfe"/></linearGradient><linearGradient id="g222" x2="0" y2="1"><stop offset="0" stop-color="#00ffd5"/><stop offset="0.23" stop-color="#00ffff"/><stop offset="0.54" stop-color="#00adff"/><stop offset="0.73" stop-color="#0085ff"/><stop offset="0.83" stop-color="#007fff"/><stop offset="1" stop-color="#007dff"/></linearGradient><linearGradient id="g223" x2="0" y2="1"><stop offset="0" stop-color="#00ffd5"/><stop offset="0.23" stop-color="#00ffff"/><stop offset="0.53" stop-color="#00aeff"/><stop offset="0.73" stop-color="#0086ff"/><stop offset="0.83" stop-color="#0080ff"/><stop offset="1" stop-color="#007fff"/></linearGradient><linearGradient id="g224" x2="0" y2="1"><stop offset="0" stop-color="#00ffd6"/><stop offset="0.23" stop-color="#00ffff"/><stop offset="0.53" stop-color="#00afff"/><stop offset="0.73" stop-color="#0087ff"/><stop offset="0.83" stop-color="#0082ff"/><stop offset="1" stop-color="#0080ff"/></linearGradient><linearGradient id="g225" x2="0" y2="1"><stop offset="0" stop-color="#00ffd7"/><stop offset="0.22" stop-color="#00ffff"/><stop offset="0.53" stop-color="#00b0ff"/><stop offset="0.73" stop-color="#0088ff"/><stop offset="1" stop-color="#0081ff"/></linearGradient><linearGradient id="g226" x2="0" y2="1"><stop offset="0" stop-color="#00ffd7"/><stop offset="0.22" stop-color="#00ffff"/><stop offset="0.53" stop-color="#00b0ff"/><stop offset="0.73" stop-color="#0089ff"/><stop offset="1" stop-color="#0083ff"/></linearGradient><linearGradient id="g227" x2="0" y2="1"><stop offset="0" stop-color="#00ffd8"/><stop offset="0.22" stop-color="#00ffff"/><stop offset="0.53" stop-color="#00b1ff"/><stop offset="0.73" stop-color="#008bff"/><stop offset="1" stop-color="#0084ff"/></linearGradient><linearGradient id="g228" x2="0" y2="1"><stop offset="0" stop-color="#00ffd9"/><stop offset="0.22" stop-color="#00ffff"/><stop offset="0.53" stop-color="#00b2ff"/><stop offset="0.73" stop-color="#008cff"/><stop offset="1" stop-color="#0085ff"/></linearGradient><linearGradient id="g229" x2="0" y2="1"><stop offset="0" stop-color="#00ffd9"/><stop offset="0.22" stop-color="#00ffff"/><stop offset="0.53" stop-color="#00b2ff"/><stop offset="0.73" stop-color="#008dff"/><stop offset="1" stop-color="#0086ff"/></linearGradient><linearGradient id="g230" x2="0" y2="1"><stop offset="0" stop-color="#00ffda"/><stop offset="0.22" stop-color="#00ffff"/><stop offset="0.53" stop-color="#00b3ff"/><stop offset="0.73" stop-color="#008eff"/><stop offset="1" stop-color="#0087ff"/></linearGradient><linearGradient id="g231" x2="0" y2="1"><stop offset="0" stop-color="#00ffda"/><stop offset="0.22" stop-color="#00ffff"/><stop offset="0.53" stop-color="#00b4ff"/><stop offset="0.73" stop-color="#008fff"/><stop offset="1" stop-color="#0089ff"/></linearGradient><linearGradient id="g232" x2="0" y2="1"><stop offset="0" stop-color="#00ffdb"/><stop offset="0.22" stop-color="#00ffff"/><stop offset="0.53" stop-color="#00b4ff"/><stop offset="0.73" stop-color="#008fff"/><stop offset="1" stop-color="#008aff"/></linearGradient><linearGradient id="g233" x2="0" y2="1"><stop offset="0" stop-color="#00ffdb"/><stop offset="0.22" stop-color="#00ffff"/><stop offset="0.53" stop-color="#00b5ff"/><stop offset="0.73" stop-color="#0090ff"/><stop offset="1" stop-color="#008bff"/></linearGradient><linearGradient id="g234" x2="0" y2="1"><stop offset="0" stop-color="#00ffdc"/><stop offset="0.22" stop-color="#00ffff"/><stop offset="0.53" stop-color="#00b5ff"/><stop offset="0.73" stop-color="#0091ff"/><stop offset="1" stop-color="#008cff"/></linearGradient><linearGradient id="g235" x2="0" y2="1"><stop offset="0" stop-color="#00ffdc"/><stop offset="0.22" stop-color="#00ffff"/><stop offset="0.53" stop-color="#00b6ff"/><stop offset="0.73" stop-color="#0092ff"/><stop offset="1" stop-color="#008dff"/></linearGradient><linearGradient id="g236" x2="0" y2="1"><stop offset="0" stop-color="#00ffdd"/><stop offset="0.22" stop-color="#00ffff"/><stop offset="0.53" stop-color="#00b7ff"/><stop offset="0.73" stop-color="#0093ff"/><stop offset="1" stop-color="#008dff"/></linearGradient><linearGradient id="g237" x2="0" y2="1"><stop offset="0" stop-color="#00ffdd"/><stop offset="0.22" stop-color="#00ffff"/><stop offset="0.53" stop-color="#00b7ff"/><stop offset="0.73" stop-color="#0094ff"/><stop offset="1" stop-color="#008eff"/></linearGradient><linearGradient id="g238" x2="0" y2="1"><stop offset="0" stop-color="#00ffde"/><stop offset="0.22" stop-color="#00ffff"/><stop offset="0.53" stop-color="#00b7ff"/><stop offset="0.73" stop-color="#0094ff"/><stop offset="1" stop-color="#008fff"/></linearGradient><linearGradient id="g239" x2="0" y2="1"><stop offset="0" stop-color="#00ffde"/><stop offset="0.22" stop-color="#00ffff"/><stop offset="0.53" stop-color="#00b8ff"/><stop offset="0.73" stop-color="#0095ff"/><stop offset="1" stop-color="#0090ff"/></linearGradient><linearGradient id="g240" x2="0" y2="1"><stop offset="0" stop-color="#00ffdf"/><stop offset="0.22" stop-color="#00ffff"/><stop offset="0.53" stop-color="#00b9ff"/><stop offset="0.73" stop-color="#0096ff"/><stop offset="1" stop-color="#0091ff"/></linearGradient><linearGradient id="g241" x2="0" y2="1"><stop offset="0" stop-color="#00ffdf"/><stop offset="0.21" stop-color="#00ffff"/><stop offset="0.53" stop-color="#00b9ff"/><stop offset="0.73" stop-color="#0097ff"/><stop offset="1" stop-color="#0092ff"/></linearGradient><linearGradient id="g242" x2="0" y2="1"><stop offset="0" stop-color="#00ffe0"/><stop offset="0.21" stop-color="#00ffff"/><stop offset="0.53" stop-color="#00b9ff"/><stop offset="0.73" stop-color="#0097ff"/><stop offset="1" stop-color="#0093ff"/></linearGradient><linearGradient id="g243" x2="0" y2="1"><stop offset="0" stop-color="#00ffe0"/><stop offset="0.21" stop-color="#00ffff"/><stop offset="0.53" stop-color="#00baff"/><stop offset="0.73" stop-color="#0098ff"/><stop offset="1" stop-color="#0093ff"/></linearGradient><linearGradient id="g244" x2="0" y2="1"><stop offset="0" stop-color="#00ffe0"/><stop offset="0.21" stop-color="#00ffff"/><stop offset="0.53" stop-color="#00baff"/><stop offset="0.73" stop-color="#0098ff"/><stop offset="1" stop-color="#0094ff"/></linearGradient><linearGradient id="g245" x2="0" y2="1"><stop offset="0" stop-color="#00ffe1"/><stop offset="0.21" stop-color="#00ffff"/><stop offset="0.53" stop-color="#00baff"/><stop offset="0.73" stop-color="#0099ff"/><stop offset="1" stop-color="#0095ff"/></linearGradient><linearGradient id="g246" x2="0" y2="1"><stop offset="0" stop-color="#00ffe1"/><stop offset="0.21" stop-color="#00ffff"/><stop offset="0.53" stop-color="#00bbff"/><stop offset="0.73" stop-color="#009aff"/><stop offset="1" stop-color="#0095ff"/></linearGradient><linearGradient id="g247" x2="0" y2="1"><stop offset="0" stop-color="#00ffe1"/><stop offset="0.21" stop-color="#00ffff"/><stop offset="0.53" stop-color="#00bbff"/><stop offset="0.73" stop-color="#009aff"/><stop offset="1" stop-color="#0096ff"/></linearGradient><linearGradient id="g248" x2="0" y2="1"><stop offset="0" stop-color="#00ffe2"/><stop offset="0.21" stop-color="#00ffff"/><stop offset="0.53" stop-color="#00bcff"/><stop offset="0.73" stop-color="#009bff"/><stop offset="1" stop-color="#0097ff"/></linearGradient><linearGradient id="g249" x2="0" y2="1"><stop offset="0" stop-color="#00ffe2"/><stop offset="0.21" stop-color="#00ffff"/><stop offset="0.53" stop-color="#00bcff"/><stop offset="0.73" stop-color="#009cff"/><stop offset="1" stop-color="#0098ff"/></linearGradient><linearGradient id="g250" x2="0" y2="1"><stop offset="0" stop-color="#00ffe2"/><stop offset="0.21" stop-color="#00ffff"/><stop offset="0.53" stop-color="#00bcff"/><stop offset="0.73" stop-color="#009cff"/><stop offset="1" stop-color="#0098ff"/></linearGradient><linearGradient id="g251" x2="0" y2="1"><stop offset="0" stop-color="#00ffe3"/><stop offset="0.21" stop-color="#00ffff"/><stop offset="0.53" stop-color="#00bdff"/><stop offset="0.73" stop-color="#009dff"/><stop offset="1" stop-color="#0099ff"/></linearGradient><linearGradient id="g252" x2="0" y2="1"><stop offset="0" stop-color="#00ffe3"/><stop offset="0.21" stop-color="#00ffff"/><stop offset="0.54" stop-color="#00bdff"/><stop offset="0.73" stop-color="#009dff"/><stop offset="1" stop-color="#0099ff"/></linearGradient><linearGradient id="g253" x2="0" y2="1"><stop offset="0" stop-color="#00ffe3"/><stop offset="0.21" stop-color="#00ffff"/><stop offset="0.54" stop-color="#00bdff"/><stop offset="0.73" stop-color="#009eff"/><stop offset="1" stop-color="#009aff"/></linearGradient><linearGradient id="g254" x2="0" y2="1"><stop offset="0" stop-color="#00ffe4"/><stop offset="0.21" stop-color="#00ffff"/><stop offset="0.54" stop-color="#00bdff"/><stop offset="0.73" stop-color="#009eff"/><stop offset="1" stop-color="#009bff"/></linearGradient><linearGradient id="g255" x2="0" y2="1"><stop offset="0" stop-color="#00ffe4"/><stop offset="0.21" stop-color="#00ffff"/><stop offset="0.54" stop-color="#00beff"/><stop offset="0.73" stop-color="#009fff"/><stop offset="1" stop-color="#009bff"/></linearGradient><linearGradient id="g256" x2="0" y2="1"><stop offset="0" stop-color="#00ffe4"/><stop offset="0.21" stop-color="#00ffff"/><stop offset="0.54" stop-color="#00beff"/><stop offset="0.73" stop-color="#00a0ff"/><stop offset="1" stop-color="#009cff"/></linearGradient><linearGradient id="g257" x2="0" y2="1"><stop offset="0" stop-color="#00ffe5"/><stop offset="0.21" stop-color="#00ffff"/><stop offset="0.53" stop-color="#00bfff"/><stop offset="0.73" stop-color="#00a0ff"/><stop offset="1" stop-color="#009dff"/></linearGradient><linearGradient id="g258" x2="0" y2="1"><stop offset="0" stop-color="#00ffe5"/><stop offset="0.2" stop-color="#00ffff"/><stop offset="0.54" stop-color="#00bfff"/><stop offset="0.73" stop-color="#00a1ff"/><stop offset="1" stop-color="#009eff"/></linearGradient><linearGradient id="g259" x2="0" y2="1"><stop offset="0" stop-color="#00ffe5"/><stop offset="0.2" stop-color="#00ffff"/><stop offset="0.54" stop-color="#00bfff"/><stop offset="0.73" stop-color="#00a2ff"/><stop offset="1" stop-color="#009eff"/></linearGradient><linearGradient id="g260" x2="0" y2="1"><stop offset="0" stop-color="#00ffe5"/><stop offset="0.2" stop-color="#00ffff"/><stop offset="0.54" stop-color="#00c0ff"/><stop offset="0.73" stop-color="#00a2ff"/><stop offset="1" stop-color="#009fff"/></linearGradient><linearGradient id="g261" x2="0" y2="1"><stop offset="0" stop-color="#00ffe6"/><stop offset="0.2" stop-color="#00ffff"/><stop offset="0.54" stop-color="#00c0ff"/><stop offset="0.73" stop-color="#00a3ff"/><stop offset="1" stop-color="#00a0ff"/></linearGradient><linearGradient id="g262" x2="0" y2="1"><stop offset="0" stop-color="#00ffe6"/><stop offset="0.2" stop-color="#00ffff"/><stop offset="0.54" stop-color="#00c1ff"/><stop offset="0.73" stop-color="#00a4ff"/><stop offset="1" stop-color="#00a0ff"/></linearGradient><linearGradient id="g263" x2="0" y2="1"><stop offset="0" stop-color="#00ffe6"/><stop offset="0.2" stop-color="#00ffff"/><stop offset="0.54" stop-color="#00c1ff"/><stop offset="0.73" stop-color="#00a4ff"/><stop offset="1" stop-color="#00a1ff"/></linearGradient><linearGradient id="g264" x2="0" y2="1"><stop offset="0" stop-color="#00ffe6"/><stop offset="0.2" stop-color="#00ffff"/><stop offset="0.54" stop-color="#00c2ff"/><stop offset="0.73" stop-color="#00a5ff"/><stop offset="1" stop-color="#00a2ff"/></linearGradient><linearGradient id="g265" x2="0" y2="1"><stop offset="0" stop-color="#00ffe7"/><stop offset="0.2" stop-color="#00ffff"/><stop offset="0.54" stop-color="#00c2ff"/><stop offset="0.73" stop-color="#00a6ff"/><stop offset="1" stop-color="#00a2ff"/></linearGradient><linearGradient id="g266" x2="0" y2="1"><stop offset="0" stop-color="#00ffe7"/><stop offset="0.2" stop-color="#00ffff"/><stop offset="0.54" stop-color="#00c2ff"/><stop offset="0.73" stop-color="#00a6ff"/><stop offset="1" stop-color="#00a3ff"/></linearGradient><linearGradient id="g267" x2="0" y2="1"><stop offset="0" stop-color="#00ffe7"/><stop offset="0.2" stop-color="#00ffff"/><stop offset="0.54" stop-color="#00c3ff"/><stop offset="0.73" stop-color="#00a7ff"/><stop offset="1" stop-color="#00a4ff"/></linearGradient><linearGradient id="g268" x2="0" y2="1"><stop offset="0" stop-color="#00ffe7"/><stop offset="0.2" stop-color="#00ffff"/><stop offset="0.54" stop-color="#00c3ff"/><stop offset="0.73" stop-color="#00a7ff"/><stop offset="1" stop-color="#00a4ff"/></linearGradient><linearGradient id="g269" x2="0" y2="1"><stop offset="0" stop-color="#00ffe8"/><stop offset="0.2" stop-color="#00ffff"/><stop offset="0.54" stop-color="#00c4ff"/><stop offset="0.73" stop-color="#00a8ff"/><stop offset="1" stop-color="#00a5ff"/></linearGradient><linearGradient id="g270" x2="0" y2="1"><stop offset="0" stop-color="#00ffe8"/><stop offset="0.2" stop-color="#00ffff"/><stop offset="0.54" stop-color="#00c4ff"/><stop offset="0.73" stop-color="#00a9ff"/><stop offset="1" stop-color="#00a6ff"/></linearGradient><linearGradient id="g271" x2="0" y2="1"><stop offset="0" stop-color="#00ffe8"/><stop offset="0.2" stop-color="#00ffff"/><stop offset="0.53" stop-color="#00c5ff"/><stop offset="0.73" stop-color="#00a9ff"/><stop offset="1" stop-color="#00a6ff"/></linearGradient><linearGradient id="g272" x2="0" y2="1"><stop offset="0" stop-color="#00ffe8"/><stop offset="0.2" stop-color="#00ffff"/><stop offset="0.53" stop-color="#00c5ff"/><stop offset="0.73" stop-color="#00aaff"/><stop offset="1" stop-color="#00a7ff"/></linearGradient><linearGradient id="g273" x2="0" y2="1"><stop offset="0" stop-color="#00ffe9"/><stop offset="0.2" stop-color="#00ffff"/><stop offset="0.53" stop-color="#00c5ff"/><stop offset="0.73" stop-color="#00abff"/><stop offset="1" stop-color="#00a7ff"/></linearGradient><linearGradient id="g274" x2="0" y2="1"><stop offset="0" stop-color="#00ffe9"/><stop offset="0.2" stop-color="#00ffff"/><stop offset="0.53" stop-color="#00c6ff"/><stop offset="0.73" stop-color="#00abff"/><stop offset="1" stop-color="#00a8ff"/></linearGradient><linearGradient id="g275" x2="0" y2="1"><stop offset="0" stop-color="#00ffe9"/><stop offset="0.2" stop-color="#00ffff"/><stop offset="0.53" stop-color="#00c6ff"/><stop offset="0.73" stop-color="#00acff"/><stop offset="1" stop-color="#00a9ff"/></linearGradient><linearGradient id="g276" x2="0" y2="1"><stop offset="0" stop-color="#00ffe9"/><stop offset="0.2" stop-color="#00ffff"/><stop offset="0.53" stop-color="#00c7ff"/><stop offset="0.73" stop-color="#00acff"/><stop offset="1" stop-color="#00a9ff"/></linearGradient><linearGradient id="g277" x2="0" y2="1"><stop offset="0" stop-color="#00ffe9"/><stop offset="0.19" stop-color="#00ffff"/><stop offset="0.53" stop-color="#00c7ff"/><stop offset="0.73" stop-color="#00adff"/><stop offset="1" stop-color="#00aaff"/></linearGradient><linearGradient id="g278" x2="0" y2="1"><stop offset="0" stop-color="#00ffea"/><stop offset="0.19" stop-color="#00ffff"/><stop offset="0.53" stop-color="#00c7ff"/><stop offset="0.73" stop-color="#00adff"/><stop offset="1" stop-color="#00aaff"/></linearGradient><linearGradient id="g279" x2="0" y2="1"><stop offset="0" stop-color="#00ffea"/><stop offset="0.19" stop-color="#00ffff"/><stop offset="0.53" stop-color="#00c8ff"/><stop offset="0.73" stop-color="#00aeff"/><stop offset="1" stop-color="#00abff"/></linearGradient><linearGradient id="g280" x2="0" y2="1"><stop offset="0" stop-color="#00ffea"/><stop offset="0.19" stop-color="#00ffff"/><stop offset="0.53" stop-color="#00c8ff"/><stop offset="0.73" stop-color="#00aeff"/><stop offset="1" stop-color="#00abff"/></linearGradient><linearGradient id="g281" x2="0" y2="1"><stop offset="0" stop-color="#00ffea"/><stop offset="0.19" stop-color="#00ffff"/><stop offset="0.53" stop-color="#00c8ff"/><stop offset="0.73" stop-color="#00afff"/><stop offset="1" stop-color="#00acff"/></linearGradient><linearGradient id="g282" x2="0" y2="1"><stop offset="0" stop-color="#00ffea"/><stop offset="0.19" stop-color="#00ffff"/><stop offset="0.53" stop-color="#00c9ff"/><stop offset="0.73" stop-color="#00afff"/><stop offset="1" stop-color="#00acff"/></linearGradient><linearGradient id="g283" x2="0" y2="1"><stop offset="0" stop-color="#00ffeb"/><stop offset="0.19" stop-color="#00ffff"/><stop offset="0.53" stop-color="#00c9ff"/><stop offset="0.73" stop-color="#00b0ff"/><stop offset="1" stop-color="#00adff"/></linearGradient><linearGradient id="g284" x2="0" y2="1"><stop offset="0" stop-color="#00ffeb"/><stop offset="0.19" stop-color="#00ffff"/><stop offset="0.53" stop-color="#00c9ff"/><stop offset="0.73" stop-color="#00b0ff"/><stop offset="1" stop-color="#00aeff"/></linearGradient><linearGradient id="g285" x2="0" y2="1"><stop offset="0" stop-color="#00ffeb"/><stop offset="0.19" stop-color="#00ffff"/><stop offset="0.53" stop-color="#00caff"/><stop offset="0.73" stop-color="#00b1ff"/><stop offset="1" stop-color="#00aeff"/></linearGradient><linearGradient id="g286" x2="0" y2="1"><stop offset="0" stop-color="#00ffeb"/><stop offset="0.19" stop-color="#00ffff"/><stop offset="0.53" stop-color="#00caff"/><stop offset="0.73" stop-color="#00b1ff"/><stop offset="1" stop-color="#00afff"/></linearGradient><linearGradient id="g287" x2="0" y2="1"><stop offset="0" stop-color="#00ffeb"/><stop offset="0.19" stop-color="#00ffff"/><stop offset="0.53" stop-color="#00caff"/><stop offset="0.73" stop-color="#00b2ff"/><stop offset="1" stop-color="#00afff"/></linearGradient><linearGradient id="g288" x2="0" y2="1"><stop offset="0" stop-color="#00ffeb"/><stop offset="0.19" stop-color="#00ffff"/><stop offset="0.53" stop-color="#00caff"/><stop offset="0.73" stop-color="#00b2ff"/><stop offset="1" stop-color="#00b0ff"/></linearGradient><linearGradient id="g289" x2="0" y2="1"><stop offset="0" stop-color="#00ffec"/><stop offset="0.19" stop-color="#00ffff"/><stop offset="0.53" stop-color="#00cbff"/><stop offset="0.73" stop-color="#00b3ff"/><stop offset="1" stop-color="#00b0ff"/></linearGradient><linearGradient id="g290" x2="0" y2="1"><stop offset="0" stop-color="#00ffec"/><stop offset="0.19" stop-color="#00ffff"/><stop offset="0.53" stop-color="#00cbff"/><stop offset="0.73" stop-color="#00b3ff"/><stop offset="1" stop-color="#00b1ff"/></linearGradient><linearGradient id="g291" x2="0" y2="1"><stop offset="0" stop-color="#00ffec"/><stop offset="0.19" stop-color="#00ffff"/><stop offset="0.53" stop-color="#00cbff"/><stop offset="0.73" stop-color="#00b4ff"/><stop offset="1" stop-color="#00b1ff"/></linearGradient><linearGradient id="g292" x2="0" y2="1"><stop offset="0" stop-color="#00ffec"/><stop offset="0.19" stop-color="#00ffff"/><stop offset="0.53" stop-color="#00ccff"/><stop offset="0.73" stop-color="#00b4ff"/><stop offset="1" stop-color="#00b2ff"/></linearGradient><linearGradient id="g293" x2="0" y2="1"><stop offset="0" stop-color="#00ffec"/><stop offset="0.19" stop-color="#00ffff"/><stop offset="0.53" stop-color="#00ccff"/><stop offset="0.73" stop-color="#00b5ff"/><stop offset="1" stop-color="#00b2ff"/></linearGradient><linearGradient id="g294" x2="0" y2="1"><stop offset="0" stop-color="#00ffec"/><stop offset="0.19" stop-color="#00ffff"/><stop offset="0.53" stop-color="#00ccff"/><stop offset="0.73" stop-color="#00b5ff"/><stop offset="1" stop-color="#00b2ff"/></linearGradient><linearGradient id="g295" x2="0" y2="1"><stop offset="0" stop-color="#00ffed"/><stop offset="0.19" stop-color="#00ffff"/><stop offset="0.53" stop-color="#00cdff"/><stop offset="0.73" stop-color="#00b6ff"/><stop offset="1" stop-color="#00b3ff"/></linearGradient><linearGradient id="g296" x2="0" y2="1"><stop offset="0" stop-color="#00ffed"/><stop offset="0.19" stop-color="#00ffff"/><stop offset="0.53" stop-color="#00cdff"/><stop offset="0.73" stop-color="#00b6ff"/><stop offset="1" stop-color="#00b3ff"/></linearGradient><linearGradient id="g297" x2="0" y2="1"><stop offset="0" stop-color="#00ffed"/><stop offset="0.19" stop-color="#00ffff"/><stop offset="0.53" stop-color="#00cdff"/><stop offset="0.73" stop-color="#00b6ff"/><stop offset="1" stop-color="#00b4ff"/></linearGradient><linearGradient id="g298" x2="0" y2="1"><stop offset="0" stop-color="#00ffed"/><stop offset="0.18" stop-color="#00ffff"/><stop offset="0.54" stop-color="#00cdff"/><stop offset="0.73" stop-color="#00b7ff"/><stop offset="1" stop-color="#00b4ff"/></linearGradient><linearGradient id="g299" x2="0" y2="1"><stop offset="0" stop-color="#00ffed"/><stop offset="0.18" stop-color="#00ffff"/><stop offset="0.53" stop-color="#00ceff"/><stop offset="0.73" stop-color="#00b7ff"/><stop offset="1" stop-color="#00b5ff"/></linearGradient><linearGradient id="g300" x2="0" y2="1"><stop offset="0" stop-color="#00ffed"/><stop offset="0.18" stop-color="#00ffff"/><stop offset="0.53" stop-color="#00ceff"/><stop offset="0.73" stop-color="#00b8ff"/><stop offset="1" stop-color="#00b5ff"/></linearGradient><linearGradient id="g301" x2="0" y2="1"><stop offset="0" stop-color="#00ffee"/><stop offset="0.18" stop-color="#00ffff"/><stop offset="0.53" stop-color="#00ceff"/><stop offset="0.73" stop-color="#00b8ff"/><stop offset="1" stop-color="#00b6ff"/></linearGradient><linearGradient id="g302" x2="0" y2="1"><stop offset="0" stop-color="#00ffee"/><stop offset="0.18" stop-color="#00ffff"/><stop offset="0.53" stop-color="#00cfff"/><stop offset="0.73" stop-color="#00b9ff"/><stop offset="1" stop-color="#00b6ff"/></linearGradient><linearGradient id="g303" x2="0" y2="1"><stop offset="0" stop-color="#00ffee"/><stop offset="0.18" stop-color="#00ffff"/><stop offset="0.53" stop-color="#00cfff"/><stop offset="0.73" stop-color="#00b9ff"/><stop offset="1" stop-color="#00b7ff"/></linearGradient><linearGradient id="g304" x2="0" y2="1"><stop offset="0" stop-color="#00ffee"/><stop offset="0.18" stop-color="#00ffff"/><stop offset="0.53" stop-color="#00cfff"/><stop offset="0.73" stop-color="#00b9ff"/><stop offset="1" stop-color="#00b7ff"/></linearGradient><linearGradient id="g305" x2="0" y2="1"><stop offset="0" stop-color="#00ffee"/><stop offset="0.18" stop-color="#00ffff"/><stop offset="0.54" stop-color="#00cfff"/><stop offset="0.73" stop-color="#00baff"/><stop offset="1" stop-color="#00b7ff"/></linearGradient><linearGradient id="g306" x2="0" y2="1"><stop offset="0" stop-color="#00ffee"/><stop offset="0.18" stop-color="#00ffff"/><stop offset="0.53" stop-color="#00d0ff"/><stop offset="0.73" stop-color="#00baff"/><stop offset="1" stop-color="#00b8ff"/></linearGradient><linearGradient id="g307" x2="0" y2="1"><stop offset="0" stop-color="#00ffee"/><stop offset="0.18" stop-color="#00ffff"/><stop offset="0.53" stop-color="#00d0ff"/><stop offset="0.73" stop-color="#00bbff"/><stop offset="1" stop-color="#00b8ff"/></linearGradient><linearGradient id="g308" x2="0" y2="1"><stop offset="0" stop-color="#00ffef"/><stop offset="0.18" stop-color="#00ffff"/><stop offset="0.53" stop-color="#00d0ff"/><stop offset="0.73" stop-color="#00bbff"/><stop offset="1" stop-color="#00b9ff"/></linearGradient><linearGradient id="g309" x2="0" y2="1"><stop offset="0" stop-color="#00ffef"/><stop offset="0.18" stop-color="#00ffff"/><stop offset="0.53" stop-color="#00d0ff"/><stop offset="0.73" stop-color="#00bbff"/><stop offset="1" stop-color="#00b9ff"/></linearGradient><linearGradient id="g310" x2="0" y2="1"><stop offset="0" stop-color="#00ffef"/><stop offset="0.18" stop-color="#00ffff"/><stop offset="0.53" stop-color="#00d1ff"/><stop offset="0.73" stop-color="#00bcff"/><stop offset="1" stop-color="#00baff"/></linearGradient><linearGradient id="g311" x2="0" y2="1"><stop offset="0" stop-color="#00ffef"/><stop offset="0.18" stop-color="#00ffff"/><stop offset="0.73" stop-color="#00bcff"/><stop offset="1" stop-color="#00baff"/></linearGradient><linearGradient id="g312" x2="0" y2="1"><stop offset="0" stop-color="#00ffef"/><stop offset="0.18" stop-color="#00ffff"/><stop offset="0.73" stop-color="#00bdff"/><stop offset="1" stop-color="#00baff"/></linearGradient><linearGradient id="g313" x2="0" y2="1"><stop offset="0" stop-color="#00ffef"/><stop offset="0.18" stop-color="#00ffff"/><stop offset="0.73" stop-color="#00bdff"/><stop offset="1" stop-color="#00bbff"/></linearGradient><linearGradient id="g314" x2="0" y2="1"><stop offset="0" stop-color="#00ffef"/><stop offset="0.18" stop-color="#00ffff"/><stop offset="0.73" stop-color="#00bdff"/><stop offset="1" stop-color="#00bbff"/></linearGradient><linearGradient id="g315" x2="0" y2="1"><stop offset="0" stop-color="#00ffef"/><stop offset="0.18" stop-color="#00ffff"/><stop offset="0.73" stop-color="#00beff"/><stop offset="1" stop-color="#00bcff"/></linearGradient><linearGradient id="g316" x2="0" y2="1"><stop offset="0" stop-color="#00fff0"/><stop offset="0.18" stop-color="#00ffff"/><stop offset="0.73" stop-color="#00beff"/><stop offset="1" stop-color="#00bcff"/></linearGradient><linearGradient id="g317" x2="0" y2="1"><stop offset="0" stop-color="#00fff0"/><stop offset="0.18" stop-color="#00ffff"/><stop offset="0.73" stop-color="#00bfff"/><stop offset="1" stop-color="#00bcff"/></linearGradient><linearGradient id="g318" x2="0" y2="1"><stop offset="0" stop-color="#00fff0"/><stop offset="0.18" stop-color="#00ffff"/><stop offset="0.73" stop-color="#00bfff"/><stop offset="1" stop-color="#00bdff"/></linearGradient><linearGradient id="g319" x2="0" y2="1"><stop offset="0" stop-color="#00fff0"/><stop offset="0.18" stop-color="#00ffff"/><stop offset="0.73" stop-color="#00bfff"/><stop offset="1" stop-color="#00bdff"/></linearGradient><linearGradient id="g320" x2="0" y2="1"><stop offset="0" stop-color="#00fff0"/><stop offset="0.18" stop-color="#00ffff"/><stop offset="0.73" stop-color="#00c0ff"/><stop offset="1" stop-color="#00beff"/></linearGradient><linearGradient id="g321" x2="0" y2="1"><stop offset="0" stop-color="#00fff0"/><stop offset="0.18" stop-color="#00ffff"/><stop offset="0.73" stop-color="#00c0ff"/><stop offset="1" stop-color="#00beff"/></linearGradient><linearGradient id="g322" x2="0" y2="1"><stop offset="0" stop-color="#00fff0"/><stop offset="0.18" stop-color="#00ffff"/><stop offset="0.73" stop-color="#00c0ff"/><stop offset="1" stop-color="#00beff"/></linearGradient><linearGradient id="g323" x2="0" y2="1"><stop offset="0" stop-color="#00fff0"/><stop offset="0.18" stop-color="#00ffff"/><stop offset="0.73" stop-color="#00c1ff"/><stop offset="1" stop-color="#00bfff"/></linearGradient><linearGradient id="g324" x2="0" y2="1"><stop offset="0" stop-color="#00fff1"/><stop offset="0.18" stop-color="#00ffff"/><stop offset="0.73" stop-color="#00c1ff"/><stop offset="1" stop-color="#00bfff"/></linearGradient><linearGradient id="g325" x2="0" y2="1"><stop offset="0" stop-color="#00fff1"/><stop offset="0.17" stop-color="#00ffff"/><stop offset="0.73" stop-color="#00c2ff"/><stop offset="1" stop-color="#00c0ff"/></linearGradient><linearGradient id="g326" x2="0" y2="1"><stop offset="0" stop-color="#00fff1"/><stop offset="0.17" stop-color="#00ffff"/><stop offset="0.73" stop-color="#00c2ff"/><stop offset="1" stop-color="#00c0ff"/></linearGradient><linearGradient id="g327" x2="0" y2="1"><stop offset="0" stop-color="#00fff1"/><stop offset="0.17" stop-color="#00ffff"/><stop offset="0.73" stop-color="#00c2ff"/><stop offset="1" stop-color="#00c0ff"/></linearGradient><linearGradient id="g328" x2="0" y2="1"><stop offset="0" stop-color="#00fff1"/><stop offset="0.17" stop-color="#00ffff"/><stop offset="0.73" stop-color="#00c3ff"/><stop offset="1" stop-color="#00c1ff"/></linearGradient><linearGradient id="g329" x2="0" y2="1"><stop offset="0" stop-color="#00fff1"/><stop offset="0.17" stop-color="#00ffff"/><stop offset="0.73" stop-color="#00c3ff"/><stop offset="1" stop-color="#00c1ff"/></linearGradient><linearGradient id="g330" x2="0" y2="1"><stop offset="0" stop-color="#00fff1"/><stop offset="0.17" stop-color="#00ffff"/><stop offset="0.73" stop-color="#00c3ff"/><stop offset="1" stop-color="#00c1ff"/></linearGradient><linearGradient id="g331" x2="0" y2="1"><stop offset="0" stop-color="#00fff1"/><stop offset="0.17" stop-color="#00ffff"/><stop offset="0.73" stop-color="#00c4ff"/><stop offset="1" stop-color="#00c2ff"/></linearGradient><linearGradient id="g332" x2="0" y2="1"><stop offset="0" stop-color="#00fff1"/><stop offset="0.17" stop-color="#00ffff"/><stop offset="0.73" stop-color="#00c4ff"/><stop offset="1" stop-color="#00c2ff"/></linearGradient><linearGradient id="g333" x2="0" y2="1"><stop offset="0" stop-color="#00fff2"/><stop offset="0.17" stop-color="#00ffff"/><stop offset="0.73" stop-color="#00c4ff"/><stop offset="1" stop-color="#00c2ff"/></linearGradient><linearGradient id="g334" x2="0" y2="1"><stop offset="0" stop-color="#00fff2"/><stop offset="0.17" stop-color="#00ffff"/><stop offset="0.73" stop-color="#00c5ff"/><stop offset="1" stop-color="#00c3ff"/></linearGradient><linearGradient id="g335" x2="0" y2="1"><stop offset="0" stop-color="#00fff2"/><stop offset="0.17" stop-color="#00ffff"/><stop offset="0.73" stop-color="#00c5ff"/><stop offset="1" stop-color="#00c3ff"/></linearGradient><linearGradient id="g336" x2="0" y2="1"><stop offset="0" stop-color="#00fff2"/><stop offset="0.17" stop-color="#00ffff"/><stop offset="0.73" stop-color="#00c5ff"/><stop offset="1" stop-color="#00c4ff"/></linearGradient><linearGradient id="g337" x2="0" y2="1"><stop offset="0" stop-color="#00fff2"/><stop offset="0.17" stop-color="#00ffff"/><stop offset="0.73" stop-color="#00c6ff"/><stop offset="1" stop-color="#00c4ff"/></linearGradient><linearGradient id="g338" x2="0" y2="1"><stop offset="0" stop-color="#00fff2"/><stop offset="0.17" stop-color="#00ffff"/><stop offset="0.73" stop-color="#00c6ff"/><stop offset="1" stop-color="#00c4ff"/></linearGradient><linearGradient id="g339" x2="0" y2="1"><stop offset="0" stop-color="#00fff2"/><stop offset="0.17" stop-color="#00ffff"/><stop offset="0.73" stop-color="#00c6ff"/><stop offset="1" stop-color="#00c5ff"/></linearGradient></defs>
<g><rect x="818.6" y="503.9" width="1.5" height="325.3" fill="url(#g0)"/><rect x="819.6" y="503.9" width="1.5" height="325.3" fill="url(#g1)"/><rect x="820.6" y="503.9" width="1.5" height="325.3" fill="url(#g2)"/><rect x="821.6" y="503.9" width="1.5" height="325.3" fill="url(#g3)"/><rect x="822.6" y="503.9" width="1.5" height="325.3" fill="url(#g4)"/><rect x="823.6" y="503.9" width="1.5" height="325.3" fill="url(#g5)"/><rect x="824.6" y="503.9" width="1.5" height="325.3" fill="url(#g6)"/><rect x="825.6" y="503.9" width="1.5" height="325.3" fill="url(#g7)"/><rect x="826.6" y="503.9" width="1.5" height="325.3" fill="url(#g8)"/><rect x="827.6" y="503.9" width="1.5" height="325.3" fill="url(#g9)"/><rect x="828.6" y="503.9" width="1.5" height="325.3" fill="url(#g10)"/><rect x="829.6" y="503.9" width="1.5" height="325.3" fill="url(#g11)"/><rect x="830.6" y="503.9" width="1.5" height="325.3" fill="url(#g12)"/><rect x="831.6" y="503.9" width="1.5" height="325.3" fill="url(#g13)"/><rect x="832.6" y="503.9" width="1.5" height="325.3" fill="url(#g14)"/><rect x="833.6" y="503.9" width="1.5" height="325.3" fill="url(#g15)"/><rect x="834.6" y="503.9" width="1.5" height="325.3" fill="url(#g16)"/><rect x="835.6" y="503.9" width="1.5" height="325.3" fill="url(#g17)"/><rect x="836.6" y="503.9" width="1.5" height="325.3" fill="url(#g18)"/><rect x="837.6" y="503.9" width="1.5" height="325.3" fill="url(#g19)"/><rect x="838.6" y="503.9" width="1.5" height="325.3" fill="url(#g20)"/><rect x="839.6" y="503.9" width="1.5" height="325.3" fill="url(#g21)"/><rect x="840.6" y="503.9" width="1.5" height="325.3" fill="url(#g22)"/><rect x="841.6" y="503.9" width="1.5" height="325.3" fill="url(#g23)"/><rect x="842.6" y="503.9" width="1.5" height="325.3" fill="url(#g24)"/><rect x="843.6" y="503.9" width="1.5" height="325.3" fill="url(#g25)"/><rect x="844.6" y="503.9" width="1.5" height="325.3" fill="url(#g26)"/><rect x="845.6" y="503.9" width="1.5" height="325.3" fill="url(#g27)"/><rect x="846.6" y="503.9" width="1.5" height="325.3" fill="url(#g28)"/><rect x="847.6" y="503.9" width="1.5" height="325.3" fill="url(#g29)"/><rect x="848.6" y="503.9" width="1.5" height="325.3" fill="url(#g30)"/><rect x="849.6" y="503.9" width="1.5" height="325.3" fill="url(#g31)"/><rect x="850.6" y="503.9" width="1.5" height="325.3" fill="url(#g32)"/><rect x="851.6" y="503.9" width="1.5" height="325.3" fill="url(#g33)"/><rect x="852.6" y="503.9" width="1.5" height="325.3" fill="url(#g34)"/><rect x="853.6" y="503.9" width="1.5" height="325.3" fill="url(#g35)"/><rect x="854.6" y="503.9" width="1.5" height="325.3" fill="url(#g36)"/><rect x="855.6" y="503.9" width="1.5" height="325.3" fill="url(#g37)"/><rect x="856.6" y="503.9" width="1.5" height="325.3" fill="url(#g38)"/><rect x="857.6" y="503.9" width="1.5" height="325.3" fill="url(#g39)"/><rect x="858.6" y="503.9" width="1.5" height="325.3" fill="url(#g40)"/><rect x="859.6" y="503.9" width="1.5" height="325.3" fill="url(#g41)"/><rect x="860.6" y="503.9" width="1.5" height="325.3" fill="url(#g42)"/><rect x="861.6" y="503.9" width="1.5" height="325.3" fill="url(#g43)"/><rect x="862.6" y="503.9" width="1.5" height="325.3" fill="url(#g44)"/><rect x="863.6" y="503.9" width="1.5" height="325.3" fill="url(#g45)"/><rect x="864.6" y="503.9" width="1.5" height="325.3" fill="url(#g46)"/><rect x="865.6" y="503.9" width="1.5" height="325.3" fill="url(#g47)"/><rect x="866.6" y="503.9" width="1.5" height="325.3" fill="url(#g48)"/><rect x="867.6" y="503.9" width="1.5" height="325.3" fill="url(#g49)"/><rect x="868.6" y="503.9" width="1.5" height="325.3" fill="url(#g50)"/><rect x="869.6" y="503.9" width="1.5" height="325.3" fill="url(#g51)"/><rect x="870.6" y="503.9" width="1.5" height="325.3" fill="url(#g52)"/><rect x="871.6" y="503.9" width="1.5" height="325.3" fill="url(#g53)"/><rect x="872.6" y="503.9" width="1.5" height="325.3" fill="url(#g54)"/><rect x="873.6" y="503.9" width="1.5" height="325.3" fill="url(#g55)"/><rect x="874.6" y="503.9" width="1.5" height="325.3" fill="url(#g56)"/><rect x="875.6" y="503.9" width="1.5" height="325.3" fill="url(#g57)"/><rect x="876.6" y="503.9" width="1.5" height="325.3" fill="url(#g58)"/><rect x="877.6" y="503.9" width="1.5" height="325.3" fill="url(#g59)"/><rect x="878.6" y="503.9" width="1.5" height="325.3" fill="url(#g60)"/><rect x="879.6" y="503.9" width="1.5" height="325.3" fill="url(#g61)"/><rect x="880.6" y="503.9" width="1.5" height="325.3" fill="url(#g62)"/><rect x="881.6" y="503.9" width="1.5" height="325.3" fill="url(#g63)"/><rect x="882.6" y="503.9" width="1.5" height="325.3" fill="url(#g64)"/><rect x="883.6" y="503.9" width="1.5" height="325.3" fill="url(#g65)"/><rect x="884.6" y="503.9" width="1.5" height="325.3" fill="url(#g66)"/><rect x="885.6" y="503.9" width="1.5" height="325.3" fill="url(#g67)"/><rect x="886.6" y="503.9" width="1.5" height="325.3" fill="url(#g68)"/><rect x="887.6" y="503.9" width="1.5" height="325.3" fill="url(#g69)"/><rect x="888.6" y="503.9" width="1.5" height="325.3" fill="url(#g70)"/><rect x="889.6" y="503.9" width="1.5" height="325.3" fill="url(#g71)"/><rect x="890.6" y="503.9" width="1.5" height="325.3" fill="url(#g72)"/><rect x="891.6" y="503.9" width="1.5" height="325.3" fill="url(#g73)"/><rect x="892.6" y="503.9" width="1.5" height="325.3" fill="url(#g74)"/><rect x="893.6" y="503.9" width="1.5" height="325.3" fill="url(#g75)"/><rect x="894.6" y="503.9" width="1.5" height="325.3" fill="url(#g76)"/><rect x="895.6" y="503.9" width="1.5" height="325.3" fill="url(#g77)"/><rect x="896.6" y="503.9" width="1.5" height="325.3" fill="url(#g78)"/><rect x="897.6" y="503.9" width="1.5" height="325.3" fill="url(#g79)"/><rect x="898.6" y="503.9" width="1.5" height="325.3" fill="url(#g80)"/><rect x="899.6" y="503.9" width="1.5" height="325.3" fill="url(#g81)"/><rect x="900.6" y="503.9" width="1.5" height="325.3" fill="url(#g82)"/><rect x="901.6" y="503.9" width="1.5" height="325.3" fill="url(#g83)"/><rect x="902.6" y="503.9" width="1.5" height="325.3" fill="url(#g84)"/><rect x="903.6" y="503.9" width="1.5" height="325.3" fill="url(#g85)"/><rect x="904.6" y="503.9" width="1.5" height="325.3" fill="url(#g86)"/><rect x="905.6" y="503.9" width="1.5" height="325.3" fill="url(#g87)"/><rect x="906.6" y="503.9" width="1.5" height="325.3" fill="url(#g88)"/><rect x="907.6" y="503.9" width="1.5" height="325.3" fill="url(#g89)"/><rect x="908.6" y="503.9" width="1.5" height="325.3" fill="url(#g90)"/><rect x="909.6" y="503.9" width="1.5" height="325.3" fill="url(#g91)"/><rect x="910.6" y="503.9" width="1.5" height="325.3" fill="url(#g92)"/><rect x="911.6" y="503.9" width="1.5" height="325.3" fill="url(#g93)"/><rect x="912.6" y="503.9" width="1.5" height="325.3" fill="url(#g94)"/><rect x="913.6" y="503.9" width="1.5" height="325.3" fill="url(#g95)"/><rect x="914.6" y="503.9" width="1.5" height="325.3" fill="url(#g96)"/><rect x="915.6" y="503.9" width="1.5" height="325.3" fill="url(#g97)"/><rect x="916.6" y="503.9" width="1.5" height="325.3" fill="url(#g98)"/><rect x="917.6" y="503.9" width="1.5" height="325.3" fill="url(#g99)"/><rect x="918.6" y="503.9" width="1.5" height="325.3" fill="url(#g100)"/><rect x="919.6" y="503.9" width="1.5" height="325.3" fill="url(#g101)"/><rect x="920.6" y="503.9" width="1.5" height="325.3" fill="url(#g102)"/><rect x="921.6" y="503.9" width="1.5" height="325.3" fill="url(#g103)"/><rect x="922.6" y="503.9" width="1.5" height="325.3" fill="url(#g104)"/><rect x="923.6" y="503.9" width="1.5" height="325.3" fill="url(#g105)"/><rect x="924.6" y="503.9" width="1.5" height="325.3" fill="url(#g106)"/><rect x="925.6" y="503.9" width="1.5" height="325.3" fill="url(#g107)"/><rect x="926.6" y="503.9" width="1.5" height="325.3" fill="url(#g108)"/><rect x="927.6" y="503.9" width="1.5" height="325.3" fill="url(#g109)"/><rect x="928.6" y="503.9" width="1.5" height="325.3" fill="url(#g110)"/><rect x="929.6" y="503.9" width="1.5" height="325.3" fill="url(#g111)"/><rect x="930.6" y="503.9" width="1.5" height="325.3" fill="url(#g112)"/><rect x="931.6" y="503.9" width="1.5" height="325.3" fill="url(#g113)"/><rect x="932.6" y="503.9" width="1.5" height="325.3" fill="url(#g114)"/><rect x="933.6" y="503.9" width="1.5" height="325.3" fill="url(#g115)"/><rect x="934.6" y="503.9" width="1.5" height="325.3" fill="url(#g116)"/><rect x="935.6" y="503.9" width="1.5" height="325.3" fill="url(#g117)"/><rect x="936.6" y="503.9" width="1.5" height="325.3" fill="url(#g118)"/><rect x="937.6" y="503.9" width="1.5" height="325.3" fill="url(#g119)"/><rect x="938.6" y="503.9" width="1.5" height="325.3" fill="url(#g120)"/><rect x="939.6" y="503.9" width="1.5" height="325.3" fill="url(#g121)"/><rect x="940.6" y="503.9" width="1.5" height="325.3" fill="url(#g122)"/><rect x="941.6" y="503.9" width="1.5" height="325.3" fill="url(#g123)"/><rect x="942.6" y="503.9" width="1.5" height="325.3" fill="url(#g124)"/><rect x="943.6" y="503.9" width="1.5" height="325.3" fill="url(#g125)"/><rect x="944.6" y="503.9" width="1.5" height="325.3" fill="url(#g126)"/><rect x="945.6" y="503.9" width="1.5" height="325.3" fill="url(#g127)"/><rect x="946.6" y="503.9" width="1.5" height="325.3" fill="url(#g128)"/><rect x="947.6" y="503.9" width="1.5" height="325.3" fill="url(#g129)"/><rect x="948.6" y="503.9" width="1.5" height="325.3" fill="url(#g130)"/><rect x="949.6" y="503.9" width="1.5" height="325.3" fill="url(#g131)"/><rect x="950.6" y="503.9" width="1.5" height="325.3" fill="url(#g132)"/><rect x="951.6" y="503.9" width="1.5" height="325.3" fill="url(#g133)"/><rect x="952.6" y="503.9" width="1.5" height="325.3" fill="url(#g134)"/><rect x="953.6" y="503.9" width="1.5" height="325.3" fill="url(#g135)"/><rect x="954.6" y="503.9" width="1.5" height="325.3" fill="url(#g136)"/><rect x="955.6" y="503.9" width="1.5" height="325.3" fill="url(#g137)"/><rect x="956.6" y="503.9" width="1.5" height="325.3" fill="url(#g138)"/><rect x="957.6" y="503.9" width="1.5" height="325.3" fill="url(#g139)"/><rect x="958.6" y="503.9" width="1.5" height="325.3" fill="url(#g140)"/><rect x="959.6" y="503.9" width="1.5" height="325.3" fill="url(#g141)"/><rect x="960.6" y="503.9" width="1.5" height="325.3" fill="url(#g142)"/><rect x="961.6" y="503.9" width="1.5" height="325.3" fill="url(#g143)"/><rect x="962.6" y="503.9" width="1.5" height="325.3" fill="url(#g144)"/><rect x="963.6" y="503.9" width="1.5" height="325.3" fill="url(#g145)"/><rect x="964.6" y="503.9" width="1.5" height="325.3" fill="url(#g146)"/><rect x="965.6" y="503.9" width="1.5" height="325.3" fill="url(#g147)"/><rect x="966.6" y="503.9" width="1.5" height="325.3" fill="url(#g148)"/><rect x="967.6" y="503.9" width="1.5" height="325.3" fill="url(#g149)"/><rect x="968.6" y="503.9" width="1.5" height="325.3" fill="url(#g150)"/><rect x="969.6" y="503.9" width="1.5" height="325.3" fill="url(#g151)"/><rect x="970.6" y="503.9" width="1.5" height="325.3" fill="url(#g152)"/><rect x="971.6" y="503.9" width="1.5" height="325.3" fill="url(#g153)"/><rect x="972.6" y="503.9" width="1.5" height="325.3" fill="url(#g154)"/><rect x="973.6" y="503.9" width="1.5" height="325.3" fill="url(#g155)"/><rect x="974.6" y="503.9" width="1.5" height="325.3" fill="url(#g156)"/><rect x="975.6" y="503.9" width="1.5" height="325.3" fill="url(#g157)"/><rect x="976.6" y="503.9" width="1.5" height="325.3" fill="url(#g158)"/><rect x="977.6" y="503.9" width="1.5" height="325.3" fill="url(#g159)"/><rect x="978.6" y="503.9" width="1.5" height="325.3" fill="url(#g160)"/><rect x="979.6" y="503.9" width="1.5" height="325.3" fill="url(#g161)"/><rect x="980.6" y="503.9" width="1.5" height="325.3" fill="url(#g162)"/><rect x="981.6" y="503.9" width="1.5" height="325.3" fill="url(#g163)"/><rect x="982.6" y="503.9" width="1.5" height="325.3" fill="url(#g164)"/><rect x="983.6" y="503.9" width="1.5" height="325.3" fill="url(#g165)"/><rect x="984.6" y="503.9" width="1.5" height="325.3" fill="url(#g166)"/><rect x="985.6" y="503.9" width="1.5" height="325.3" fill="url(#g167)"/><rect x="986.6" y="503.9" width="1.5" height="325.3" fill="url(#g168)"/><rect x="987.6" y="503.9" width="1.5" height="325.3" fill="url(#g169)"/><rect x="988.6" y="503.9" width="1.5" height="325.3" fill="url(#g170)"/><rect x="989.6" y="503.9" width="1.5" height="325.3" fill="url(#g171)"/><rect x="990.6" y="503.9" width="1.5" height="325.3" fill="url(#g172)"/><rect x="991.6" y="503.9" width="1.5" height="325.3" fill="url(#g173)"/><rect x="992.6" y="503.9" width="1.5" height="325.3" fill="url(#g174)"/><rect x="993.6" y="503.9" width="1.5" height="325.3" fill="url(#g175)"/><rect x="994.6" y="503.9" width="1.5" height="325.3" fill="url(#g176)"/><rect x="995.6" y="503.9" width="1.5" height="325.3" fill="url(#g177)"/><rect x="996.6" y="503.9" width="1.5" height="325.3" fill="url(#g178)"/><rect x="997.6" y="503.9" width="1.5" height="325.3" fill="url(#g179)"/><rect x="998.6" y="503.9" width="1.5" height="325.3" fill="url(#g180)"/><rect x="999.6" y="503.9" width="1.5" height="325.3" fill="url(#g181)"/><rect x="1000.6" y="503.9" width="1.5" height="325.3" fill="url(#g182)"/><rect x="1001.6" y="503.9" width="1.5" height="325.3" fill="url(#g183)"/><rect x="1002.6" y="503.9" width="1.5" height="325.3" fill="url(#g184)"/><rect x="1003.6" y="503.9" width="1.5" height="325.3" fill="url(#g185)"/><rect x="1004.6" y="503.9" width="1.5" height="325.3" fill="url(#g186)"/><rect x="1005.6" y="503.9" width="1.5" height="325.3" fill="url(#g187)"/><rect x="1006.6" y="503.9" width="1.5" height="325.3" fill="url(#g188)"/><rect x="1007.6" y="503.9" width="1.5" height="325.3" fill="url(#g189)"/><rect x="1008.6" y="503.9" width="1.5" height="325.3" fill="url(#g190)"/><rect x="1009.6" y="503.9" width="1.5" height="325.3" fill="url(#g191)"/><rect x="1010.6" y="503.9" width="1.5" height="325.3" fill="url(#g192)"/><rect x="1011.6" y="503.9" width="1.5" height="325.3" fill="url(#g193)"/><rect x="1012.6" y="503.9" width="1.5" height="325.3" fill="url(#g194)"/><rect x="1013.6" y="503.9" width="1.5" height="325.3" fill="url(#g195)"/><rect x="1014.6" y="503.9" width="1.5" height="325.3" fill="url(#g196)"/><rect x="1015.6" y="503.9" width="1.5" height="325.3" fill="url(#g197)"/><rect x="1016.6" y="503.9" width="1.5" height="325.3" fill="url(#g198)"/><rect x="1017.6" y="503.9" width="1.5" height="325.3" fill="url(#g199)"/><rect x="1018.6" y="503.9" width="1.5" height="325.3" fill="url(#g200)"/><rect x="1019.6" y="503.9" width="1.5" height="325.3" fill="url(#g201)"/><rect x="1020.6" y="503.9" width="1.5" height="325.3" fill="url(#g202)"/><rect x="1021.6" y="503.9" width="1.5" height="325.3" fill="url(#g203)"/><rect x="1022.6" y="503.9" width="1.5" height="325.3" fill="url(#g204)"/><rect x="1023.6" y="503.9" width="1.5" height="325.3" fill="url(#g205)"/><rect x="1024.6" y="503.9" width="1.5" height="325.3" fill="url(#g206)"/><rect x="1025.6" y="503.9" width="1.5" height="325.3" fill="url(#g207)"/><rect x="1026.6" y="503.9" width="1.5" height="325.3" fill="url(#g208)"/><rect x="1027.6" y="503.9" width="1.5" height="325.3" fill="url(#g209)"/><rect x="1028.6" y="503.9" width="1.5" height="325.3" fill="url(#g210)"/><rect x="1029.6" y="503.9" width="1.5" height="325.3" fill="url(#g211)"/><rect x="1030.6" y="503.9" width="1.5" height="325.3" fill="url(#g212)"/><rect x="1031.6" y="503.9" width="1.5" height="325.3" fill="url(#g213)"/><rect x="1032.6" y="503.9" width="1.5" height="325.3" fill="url(#g214)"/><rect x="1033.6" y="503.9" width="1.5" height="325.3" fill="url(#g215)"/><rect x="1034.6" y="503.9" width="1.5" height="325.3" fill="url(#g216)"/><rect x="1035.6" y="503.9" width="1.5" height="325.3" fill="url(#g217)"/><rect x="1036.6" y="503.9" width="1.5" height="325.3" fill="url(#g218)"/><rect x="1037.6" y="503.9" width="1.5" height="325.3" fill="url(#g219)"/><rect x="1038.6" y="503.9" width="1.5" height="325.3" fill="url(#g220)"/><rect x="1039.6" y="503.9" width="1.5" height="325.3" fill="url(#g221)"/><rect x="1040.6" y="503.9" width="1.5" height="325.3" fill="url(#g222)"/><rect x="1041.6" y="503.9" width="1.5" height="325.3" fill="url(#g223)"/><rect x="1042.6" y="503.9" width="1.5" height="325.3" fill="url(#g224)"/><rect x="1043.6" y="503.9" width="1.5" height="325.3" fill="url(#g225)"/><rect x="1044.6" y="503.9" width="1.5" height="325.3" fill="url(#g226)"/><rect x="1045.6" y="503.9" width="1.5" height="325.3" fill="url(#g227)"/><rect x="1046.6" y="503.9" width="1.5" height="325.3" fill="url(#g228)"/><rect x="1047.6" y="503.9" width="1.5" height="325.3" fill="url(#g229)"/><rect x="1048.6" y="503.9" width="1.5" height="325.3" fill="url(#g230)"/><rect x="1049.6" y="503.9" width="1.5" height="325.3" fill="url(#g231)"/><rect x="1050.6" y="503.9" width="1.5" height="325.3" fill="url(#g232)"/><rect x="1051.6" y="503.9" width="1.5" height="325.3" fill="url(#g233)"/><rect x="1052.6" y="503.9" width="1.5" height="325.3" fill="url(#g234)"/><rect x="1053.6" y="503.9" width="1.5" height="325.3" fill="url(#g235)"/><rect x="1054.6" y="503.9" width="1.5" height="325.3" fill="url(#g236)"/><rect x="1055.6" y="503.9" width="1.5" height="325.3" fill="url(#g237)"/><rect x="1056.6" y="503.9" width="1.5" height="325.3" fill="url(#g238)"/><rect x="1057.6" y="503.9" width="1.5" height="325.3" fill="url(#g239)"/><rect x="1058.6" y="503.9" width="1.5" height="325.3" fill="url(#g240)"/><rect x="1059.6" y="503.9" width="1.5" height="325.3" fill="url(#g241)"/><rect x="1060.6" y="503.9" width="1.5" height="325.3" fill="url(#g242)"/><rect x="1061.6" y="503.9" width="1.5" height="325.3" fill="url(#g243)"/><rect x="1062.6" y="503.9" width="1.5" height="325.3" fill="url(#g244)"/><rect x="1063.6" y="503.9" width="1.5" height="325.3" fill="url(#g245)"/><rect x="1064.6" y="503.9" width="1.5" height="325.3" fill="url(#g246)"/><rect x="1065.6" y="503.9" width="1.5" height="325.3" fill="url(#g247)"/><rect x="1066.6" y="503.9" width="1.5" height="325.3" fill="url(#g248)"/><rect x="1067.6" y="503.9" width="1.5" height="325.3" fill="url(#g249)"/><rect x="1068.6" y="503.9" width="1.5" height="325.3" fill="url(#g250)"/><rect x="1069.6" y="503.9" width="1.5" height="325.3" fill="url(#g251)"/><rect x="1070.6" y="503.9" width="1.5" height="325.3" fill="url(#g252)"/><rect x="1071.6" y="503.9" width="1.5" height="325.3" fill="url(#g253)"/><rect x="1072.6" y="503.9" width="1.5" height="325.3" fill="url(#g254)"/><rect x="1073.6" y="503.9" width="1.5" height="325.3" fill="url(#g255)"/><rect x="1074.6" y="503.9" width="1.5" height="325.3" fill="url(#g256)"/><rect x="1075.6" y="503.9" width="1.5" height="325.3" fill="url(#g257)"/><rect x="1076.6" y="503.9" width="1.5" height="325.3" fill="url(#g258)"/><rect x="1077.6" y="503.9" width="1.5" height="325.3" fill="url(#g259)"/><rect x="1078.6" y="503.9" width="1.5" height="325.3" fill="url(#g260)"/><rect x="1079.6" y="503.9" width="1.5" height="325.3" fill="url(#g261)"/><rect x="1080.6" y="503.9" width="1.5" height="325.3" fill="url(#g262)"/><rect x="1081.6" y="503.9" width="1.5" height="325.3" fill="url(#g263)"/><rect x="1082.6" y="503.9" width="1.5" height="325.3" fill="url(#g264)"/><rect x="1083.6" y="503.9" width="1.5" height="325.3" fill="url(#g265)"/><rect x="1084.6" y="503.9" width="1.5" height="325.3" fill="url(#g266)"/><rect x="1085.6" y="503.9" width="1.5" height="325.3" fill="url(#g267)"/><rect x="1086.6" y="503.9" width="1.5" height="325.3" fill="url(#g268)"/><rect x="1087.6" y="503.9" width="1.5" height="325.3" fill="url(#g269)"/><rect x="1088.6" y="503.9" width="1.5" height="325.3" fill="url(#g270)"/><rect x="1089.6" y="503.9" width="1.5" height="325.3" fill="url(#g271)"/><rect x="1090.6" y="503.9" width="1.5" height="325.3" fill="url(#g272)"/><rect x="1091.6" y="503.9" width="1.5" height="325.3" fill="url(#g273)"/><rect x="1092.6" y="503.9" width="1.5" height="325.3" fill="url(#g274)"/><rect x="1093.6" y="503.9" width="1.5" height="325.3" fill="url(#g275)"/><rect x="1094.6" y="503.9" width="1.5" height="325.3" fill="url(#g276)"/><rect x="1095.6" y="503.9" width="1.5" height="325.3" fill="url(#g277)"/><rect x="1096.6" y="503.9" width="1.5" height="325.3" fill="url(#g278)"/><rect x="1097.6" y="503.9" width="1.5" height="325.3" fill="url(#g279)"/><rect x="1098.6" y="503.9" width="1.5" height="325.3" fill="url(#g280)"/><rect x="1099.6" y="503.9" width="1.5" height="325.3" fill="url(#g281)"/><rect x="1100.6" y="503.9" width="1.5" height="325.3" fill="url(#g282)"/><rect x="1101.6" y="503.9" width="1.5" height="325.3" fill="url(#g283)"/><rect x="1102.6" y="503.9" width="1.5" height="325.3" fill="url(#g284)"/><rect x="1103.6" y="503.9" width="1.5" height="325.3" fill="url(#g285)"/><rect x="1104.6" y="503.9" width="1.5" height="325.3" fill="url(#g286)"/><rect x="1105.6" y="503.9" width="1.5" height="325.3" fill="url(#g287)"/><rect x="1106.6" y="503.9" width="1.5" height="325.3" fill="url(#g288)"/><rect x="1107.6" y="503.9" width="1.5" height="325.3" fill="url(#g289)"/><rect x="1108.6" y="503.9" width="1.5" height="325.3" fill="url(#g290)"/><rect x="1109.6" y="503.9" width="1.5" height="325.3" fill="url(#g291)"/><rect x="1110.6" y="503.9" width="1.5" height="325.3" fill="url(#g292)"/><rect x="1111.6" y="503.9" width="1.5" height="325.3" fill="url(#g293)"/><rect x="1112.6" y="503.9" width="1.5" height="325.3" fill="url(#g294)"/><rect x="1113.6" y="503.9" width="1.5" height="325.3" fill="url(#g295)"/><rect x="1114.6" y="503.9" width="1.5" height="325.3" fill="url(#g296)"/><rect x="1115.6" y="503.9" width="1.5" height="325.3" fill="url(#g297)"/><rect x="1116.6" y="503.9" width="1.5" height="325.3" fill="url(#g298)"/><rect x="1117.6" y="503.9" width="1.5" height="325.3" fill="url(#g299)"/><rect x="1118.6" y="503.9" width="1.5" height="325.3" fill="url(#g300)"/><rect x="1119.6" y="503.9" width="1.5" height="325.3" fill="url(#g301)"/><rect x="1120.6" y="503.9" width="1.5" height="325.3" fill="url(#g302)"/><rect x="1121.6" y="503.9" width="1.5" height="325.3" fill="url(#g303)"/><rect x="1122.6" y="503.9" width="1.5" height="325.3" fill="url(#g304)"/><rect x="1123.6" y="503.9" width="1.5" height="325.3" fill="url(#g305)"/><rect x="1124.6" y="503.9" width="1.5" height="325.3" fill="url(#g306)"/><rect x="1125.6" y="503.9" width="1.5" height="325.3" fill="url(#g307)"/><rect x="1126.6" y="503.9" width="1.5" height="325.3" fill="url(#g308)"/><rect x="1127.6" y="503.9" width="1.5" height="325.3" fill="url(#g309)"/><rect x="1128.6" y="503.9" width="1.5" height="325.3" fill="url(#g310)"/><rect x="1129.6" y="503.9" width="1.5" height="325.3" fill="url(#g311)"/><rect x="1130.6" y="503.9" width="1.5" height="325.3" fill="url(#g312)"/><rect x="1131.6" y="503.9" width="1.5" height="325.3" fill="url(#g313)"/><rect x="1132.6" y="503.9" width="1.5" height="325.3" fill="url(#g314)"/><rect x="1133.6" y="503.9" width="1.5" height="325.3" fill="url(#g315)"/><rect x="1134.6" y="503.9" width="1.5" height="325.3" fill="url(#g316)"/><rect x="1135.6" y="503.9" width="1.5" height="325.3" fill="url(#g317)"/><rect x="1136.6" y="503.9" width="1.5" height="325.3" fill="url(#g318)"/><rect x="1137.6" y="503.9" width="1.5" height="325.3" fill="url(#g319)"/><rect x="1138.6" y="503.9" width="1.5" height="325.3" fill="url(#g320)"/><rect x="1139.6" y="503.9" width="1.5" height="325.3" fill="url(#g321)"/><rect x="1140.6" y="503.9" width="1.5" height="325.3" fill="url(#g322)"/><rect x="1141.6" y="503.9" width="1.5" height="325.3" fill="url(#g323)"/><rect x="1142.6" y="503.9" width="1.5" height="325.3" fill="url(#g324)"/><rect x="1143.6" y="503.9" width="1.5" height="325.3" fill="url(#g325)"/><rect x="1144.6" y="503.9" width="1.5" height="325.3" fill="url(#g326)"/><rect x="1145.6" y="503.9" width="1.5" height="325.3" fill="url(#g327)"/><rect x="1146.6" y="503.9" width="1.5" height="325.3" fill="url(#g328)"/><rect x="1147.6" y="503.9" width="1.5" height="325.3" fill="url(#g329)"/><rect x="1148.6" y="503.9" width="1.5" height="325.3" fill="url(#g330)"/><rect x="1149.6" y="503.9" width="1.5" height="325.3" fill="url(#g331)"/><rect x="1150.6" y="503.9" width="1.5" height="325.3" fill="url(#g332)"/><rect x="1151.6" y="503.9" width="1.5" height="325.3" fill="url(#g333)"/><rect x="1152.6" y="503.9" width="1.5" height="325.3" fill="url(#g334)"/><rect x="1153.6" y="503.9" width="1.5" height="325.3" fill="url(#g335)"/><rect x="1154.6" y="503.9" width="1.5" height="325.3" fill="url(#g336)"/><rect x="1155.6" y="503.9" width="1.5" height="325.3" fill="url(#g337)"/><rect x="1156.6" y="503.9" width="1.5" height="325.3" fill="url(#g338)"/><rect x="1157.6" y="503.9" width="1.3" height="325.3" fill="url(#g339)"/></g>
<line x1="818.6" y1="508.6" x2="1158.4" y2="508.6" stroke="#000" stroke-opacity="0.62" stroke-width="2.2" stroke-dasharray="6,5.2"/>
<line x1="818.6" y1="785.4" x2="1158.4" y2="785.4" stroke="#000" stroke-opacity="0.62" stroke-width="2.2" stroke-dasharray="6,5.2"/>
<rect x="818.6" y="503.9" width="339.8" height="325.3" fill="none" stroke="#000" stroke-opacity="0.6" stroke-width="2.0"/>
<line x1="818.6" y1="829.2" x2="818.6" y2="824.2" stroke="#000" stroke-opacity="0.7" stroke-width="1.8"/>
<line x1="861.08" y1="829.2" x2="861.08" y2="825.7" stroke="#000" stroke-opacity="0.7" stroke-width="1.8"/>
<line x1="903.55" y1="829.2" x2="903.55" y2="824.2" stroke="#000" stroke-opacity="0.7" stroke-width="1.8"/>
<line x1="946.03" y1="829.2" x2="946.03" y2="825.7" stroke="#000" stroke-opacity="0.7" stroke-width="1.8"/>
<line x1="988.5" y1="829.2" x2="988.5" y2="824.2" stroke="#000" stroke-opacity="0.7" stroke-width="1.8"/>
<line x1="1030.98" y1="829.2" x2="1030.98" y2="825.7" stroke="#000" stroke-opacity="0.7" stroke-width="1.8"/>
<line x1="1073.45" y1="829.2" x2="1073.45" y2="824.2" stroke="#000" stroke-opacity="0.7" stroke-width="1.8"/>
<line x1="1115.93" y1="829.2" x2="1115.93" y2="825.7" stroke="#000" stroke-opacity="0.7" stroke-width="1.8"/>
<line x1="1158.4" y1="829.2" x2="1158.4" y2="824.2" stroke="#000" stroke-opacity="0.7" stroke-width="1.8"/>
<line x1="818.6" y1="785.4" x2="823.6" y2="785.4" stroke="#000" stroke-opacity="0.7" stroke-width="1.8"/>
<line x1="818.6" y1="647" x2="823.6" y2="647" stroke="#000" stroke-opacity="0.7" stroke-width="1.8"/>
<text x="802.3" y="534.8" font-size="37.5" text-anchor="end" fill="#000">620</text>
<text x="800.2" y="801" font-size="37.5" text-anchor="end" fill="#000">0</text>
<circle cx="760.5" cy="782" r="1.1" fill="#8a8a8a"/>
<text x="818.6" y="866" font-size="37.5" text-anchor="middle" fill="#000">8</text>
<text x="903.55" y="866" font-size="37.5" text-anchor="middle" fill="#000">10</text>
<text x="988.5" y="866" font-size="37.5" text-anchor="middle" fill="#000">12</text>
<text x="1073.45" y="866" font-size="37.5" text-anchor="middle" fill="#000">14</text>
<text x="1158.4" y="866" font-size="37.5" text-anchor="middle" fill="#000">16</text>
<text x="990" y="900.6" font-size="36.5" text-anchor="middle" fill="#000">Wavelength (µm)</text>
<text x="990.7" y="945" font-size="36" text-anchor="middle" fill="#000">(d)</text>
<text x="0" y="0" text-anchor="middle" transform="translate(744.6,669.5) rotate(-90)" font-size="36.4">Distance (nm)</text>
<text x="828.3" y="665" font-size="31" text-anchor="start" fill="#0a1a1a">ZnSe</text>
<text x="828.8" y="816" font-size="31" text-anchor="start" fill="#0a1a1a">SiC</text>
<defs><linearGradient id="cb" x1="0" y1="0" x2="0" y2="1"><stop offset="0" stop-color="#ff0000"/><stop offset="0.25" stop-color="#ffff00"/><stop offset="0.5" stop-color="#00ff00"/><stop offset="0.75" stop-color="#00ffff"/><stop offset="0.875" stop-color="#0080ff"/><stop offset="1" stop-color="#0000e6"/></linearGradient></defs>
<rect x="1196.3" y="527.2" width="44.2" height="302.4" fill="url(#cb)"/>
<text x="1246.5" y="543.2" font-size="37.5" text-anchor="start" fill="#000">2</text>
<text x="1246.5" y="839.8" font-size="37.5" text-anchor="start" fill="#000">0</text>
<text y="503.8" font-size="36.5"><tspan x="1180.2">|E/E</tspan><tspan x="1240.2" font-size="22.5" y="512">0</tspan><tspan x="1252.6" y="503.8">|</tspan></text></svg></body></html>
